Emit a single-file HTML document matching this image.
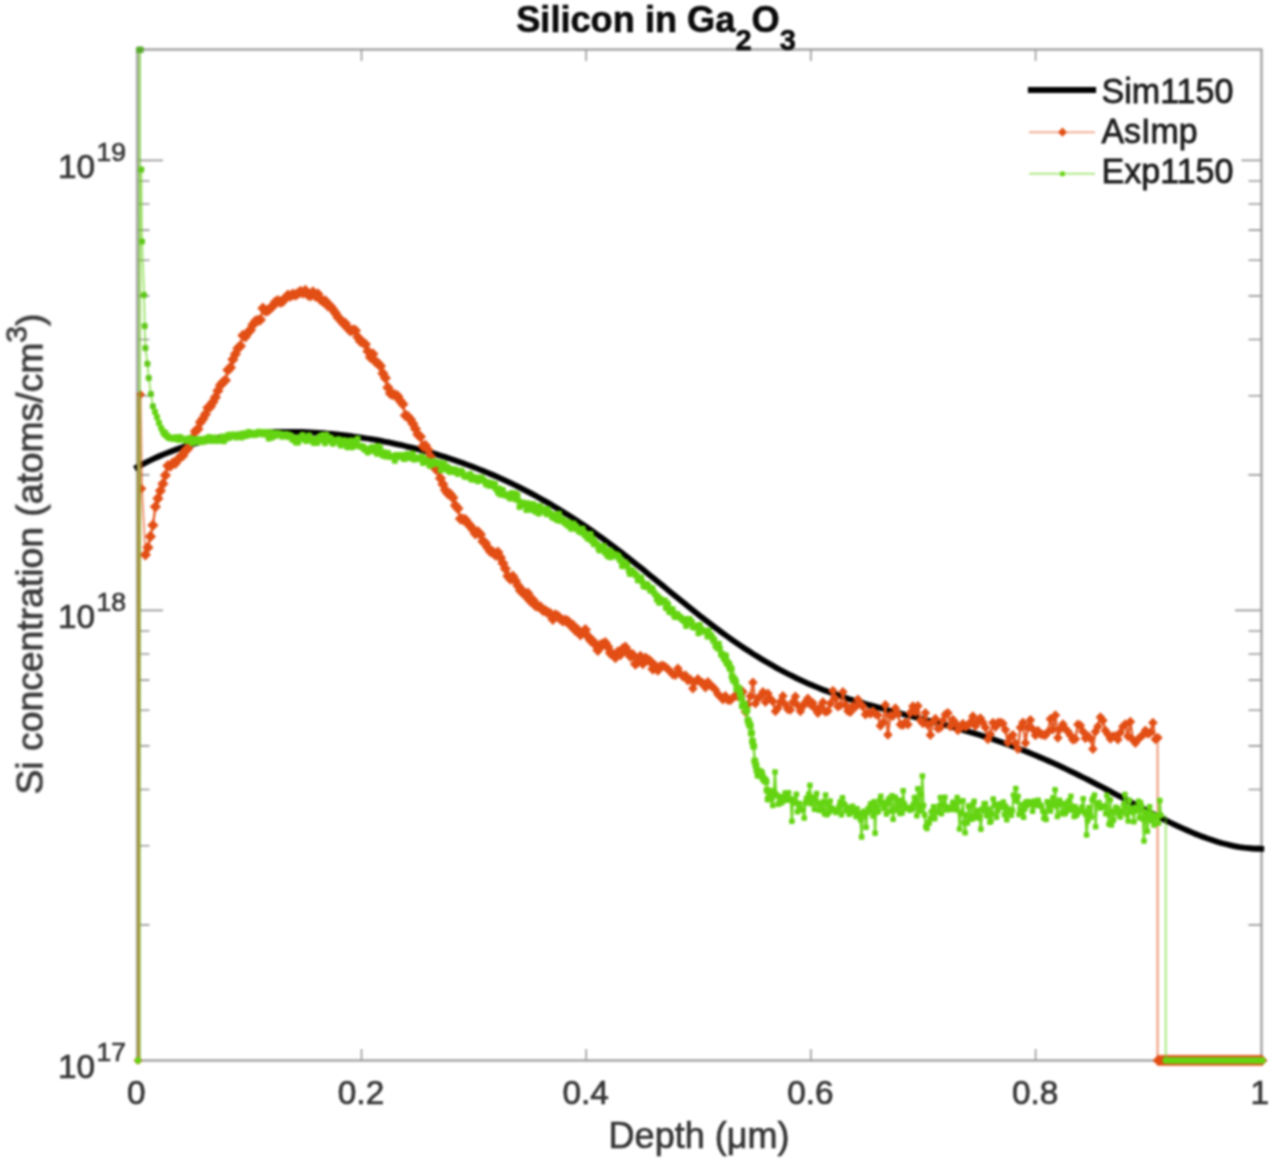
<!DOCTYPE html>
<html lang="en"><head><meta charset="utf-8"><title>Silicon in Ga2O3</title>
<style>
html,body{margin:0;padding:0;background:#fff;}
body{width:1280px;height:1167px;overflow:hidden;}
svg{display:block;font-family:"Liberation Sans",sans-serif;}
.tk{font-size:33.4px;fill:#353535;stroke:#353535;stroke-width:0.7px;}
.sup{font-size:26.5px;}
.lb{font-size:36px;fill:#353535;stroke:#353535;stroke-width:0.7px;}
.lg{font-size:34.4px;fill:#1c1c1c;stroke:#1c1c1c;stroke-width:0.8px;}
.ttl{font-size:36.2px;font-weight:bold;fill:#0a0a0a;stroke:#0a0a0a;stroke-width:0.6px;}
.soft{filter:blur(1.3px);}.softt{filter:blur(0.9px);}
</style></head><body>
<svg width="1280" height="1167" viewBox="0 0 1280 1167">
<rect width="1280" height="1167" fill="#fff"/>
<defs>
<path id="mr" d="M0,-5.8 L5.6,0 L0,5.8 L-5.6,0 Z" fill="#e24e14"/>
<rect id="mg" x="-3" y="-3" width="6" height="6" rx="1.4" fill="#64d412"/>
<rect id="mgs" x="-3" y="-3" width="6" height="6" rx="1.5" fill="#60c81a"/>
<path id="mrt" d="M0,-5 L4.8,0 L0,5 L-4.8,0 Z" fill="#e24e14"/>
<rect id="mgt" x="-2.8" y="-2.8" width="5.6" height="5.6" rx="1.3" fill="#64d412"/>
<rect id="mg2" x="-3.5" y="-3.5" width="7" height="7" rx="1.6" fill="#64d412"/>
<path id="mrs" d="M0,-4.4 L4.4,0 L0,4.4 L-4.4,0 Z" fill="#e24e14"/>
</defs>
<g class="soft">
<g fill="none" stroke="#a9a9a9" stroke-width="2.6">
<rect x="137.2" y="49.5" width="1124.3" height="1011"/>
</g>
<path d="M138,924.9 h11.5 M1261.5,924.9 h-13 M138,845.7 h11.5 M1261.5,845.7 h-13 M138,789.5 h11.5 M1261.5,789.5 h-13 M138,745.9 h11.5 M1261.5,745.9 h-13 M138,710.2 h11.5 M1261.5,710.2 h-13 M138,680.1 h11.5 M1261.5,680.1 h-13 M138,654 h11.5 M1261.5,654 h-13 M138,631 h11.5 M1261.5,631 h-13 M138,610.4 h25 M1261.5,610.4 h-26.5 M138,474.9 h11.5 M1261.5,474.9 h-13 M138,395.7 h11.5 M1261.5,395.7 h-13 M138,339.5 h11.5 M1261.5,339.5 h-13 M138,295.9 h11.5 M1261.5,295.9 h-13 M138,260.2 h11.5 M1261.5,260.2 h-13 M138,230.1 h11.5 M1261.5,230.1 h-13 M138,204 h11.5 M1261.5,204 h-13 M138,181 h11.5 M1261.5,181 h-13 M138,160.4 h25 M1261.5,160.4 h-26.5 M361.5,1060.5 v-11.5 M361.5,49.5 v11.5 M586.2,1060.5 v-11.5 M586.2,49.5 v11.5 M810.9,1060.5 v-11.5 M810.9,49.5 v11.5 M1035.6,1060.5 v-11.5 M1035.6,49.5 v11.5" fill="none" stroke="#999" stroke-width="1.6"/>
<polyline points="137,467.2 141.3,464.8 145.7,462.6 150,460.5 154.4,458.4 158.7,456.5 163,454.6 167.4,452.9 171.7,451.2 176.1,449.6 180.4,448.1 184.8,446.6 189.1,445.3 193.4,444 197.8,442.8 202.1,441.7 206.5,440.6 210.8,439.6 215.1,438.7 219.5,437.8 223.8,437 228.2,436.3 232.5,435.6 236.8,435 241.2,434.5 245.5,434 249.9,433.5 254.2,433.1 258.5,432.8 262.9,432.5 267.2,432.3 271.6,432.1 275.9,431.9 280.3,431.8 284.6,431.8 288.9,431.8 293.3,431.8 297.6,431.9 302,432 306.3,432.2 310.6,432.4 315,432.6 319.3,432.9 323.7,433.2 328,433.6 332.3,434 336.7,434.4 341,434.9 345.4,435.4 349.7,435.9 354,436.5 358.4,437.1 362.7,437.8 367.1,438.5 371.4,439.2 375.8,439.9 380.1,440.7 384.4,441.6 388.8,442.4 393.1,443.3 397.5,444.3 401.8,445.2 406.1,446.3 410.5,447.3 414.8,448.4 419.2,449.5 423.5,450.7 427.8,451.9 432.2,453.1 436.5,454.4 440.9,455.7 445.2,457.1 449.5,458.5 453.9,459.9 458.2,461.4 462.6,463 466.9,464.6 471.3,466.2 475.6,467.9 479.9,469.6 484.3,471.3 488.6,473.2 493,475 497.3,476.9 501.6,478.9 506,480.9 510.3,482.9 514.7,485 519,487.2 523.3,489.4 527.7,491.6 532,493.9 536.4,496.3 540.7,498.7 545,501.1 549.4,503.6 553.7,506.2 558.1,508.8 562.4,511.4 566.8,514.1 571.1,516.9 575.4,519.7 579.8,522.6 584.1,525.5 588.5,528.4 592.8,531.4 597.1,534.5 601.5,537.6 605.8,540.8 610.2,544 614.5,547.3 618.8,550.6 623.2,553.9 627.5,557.3 631.9,560.7 636.2,564.2 640.5,567.6 644.9,571.1 649.2,574.7 653.6,578.2 657.9,581.8 662.3,585.3 666.6,588.9 670.9,592.4 675.3,596 679.6,599.5 684,603 688.3,606.5 692.6,610 697,613.5 701.3,616.9 705.7,620.2 710,623.6 714.3,626.9 718.7,630.1 723,633.3 727.4,636.5 731.7,639.6 736,642.6 740.4,645.6 744.7,648.5 749.1,651.3 753.4,654.1 757.8,656.8 762.1,659.5 766.4,662.1 770.8,664.6 775.1,667.1 779.5,669.5 783.8,671.8 788.1,674 792.5,676.2 796.8,678.3 801.2,680.4 805.5,682.4 809.8,684.3 814.2,686.1 818.5,687.9 822.9,689.7 827.2,691.3 831.5,692.9 835.9,694.5 840.2,696 844.6,697.5 848.9,698.9 853.3,700.3 857.6,701.6 861.9,702.9 866.3,704.2 870.6,705.4 875,706.6 879.3,707.8 883.6,709 888,710.2 892.3,711.3 896.7,712.4 901,713.5 905.3,714.7 909.7,715.8 914,716.9 918.4,718 922.7,719.1 927,720.2 931.4,721.3 935.7,722.5 940.1,723.6 944.4,724.8 948.8,726 953.1,727.2 957.4,728.4 961.8,729.6 966.1,730.9 970.5,732.2 974.8,733.5 979.1,734.8 983.5,736.2 987.8,737.6 992.2,739 996.5,740.5 1000.8,742 1005.2,743.6 1009.5,745.1 1013.9,746.7 1018.2,748.4 1022.5,750.1 1026.9,751.8 1031.2,753.6 1035.6,755.4 1039.9,757.2 1044.3,759.1 1048.6,761 1052.9,762.9 1057.3,764.9 1061.6,766.9 1066,769 1070.3,771.1 1074.6,773.2 1079,775.3 1083.3,777.5 1087.7,779.6 1092,781.9 1096.3,784.1 1100.7,786.3 1105,788.6 1109.4,790.9 1113.7,793.2 1118,795.5 1122.4,797.8 1126.7,800.1 1131.1,802.4 1135.4,804.7 1139.8,807 1144.1,809.3 1148.4,811.5 1152.8,813.8 1157.1,816 1161.5,818.2 1165.8,820.4 1170.1,822.5 1174.5,824.6 1178.8,826.6 1183.2,828.6 1187.5,830.5 1191.8,832.4 1196.2,834.2 1200.5,835.9 1204.9,837.5 1209.2,839.1 1213.5,840.5 1217.9,841.9 1222.2,843.2 1226.6,844.3 1230.9,845.4 1235.3,846.3 1239.6,847.1 1243.9,847.7 1248.3,848.2 1252.6,848.6 1257,848.8 1261.3,848.8" fill="none" stroke="#000" stroke-width="5.8" stroke-linejoin="round" stroke-linecap="square"/>
<g>
<polyline points="138,1060.4 140.6,394.5 142,488.6 145.4,554.7 147.9,547.4" fill="none" stroke="#e24e14" stroke-width="2" stroke-opacity="0.6"/>
<polyline points="145.4,554.7 147.9,547.4 150.4,536.4 152.9,525.3 155.4,506.8 157.9,498.4 160.4,490.8 162.9,483.7 165.4,475.2 167.9,465.7 170.4,466 172.9,463 175.4,463.3 177.9,459.5 180.4,456.7 182.9,455.4 185.4,450.2 187.9,448.6 190.4,442.7 192.9,437.6 195.4,431.3 197.9,429.1 200.4,422.3 202.9,418.8 205.4,414.2 207.9,407.8 210.4,406.6 212.9,402.1 215.4,397.3 217.9,390.7 220.4,385.2 222.9,382.3 225.4,380.2 227.9,370 230.4,367.6 232.9,359.4 235.4,354.1 237.9,348.3 240.4,345.9 242.9,335.5 245.4,336.7 247.9,332.6 250.4,330.1 252.9,324.8 255.4,321.3 257.9,320.5 260.4,319.8 262.9,308.2 265.4,310.9 267.9,310.4 270.4,308.3 272.9,305.9 275.4,302 277.9,300.8 280.4,302.1 282.9,301.1 285.4,298.1 287.9,295.2 290.4,296 292.9,294.3 295.4,295 297.9,293.5 300.4,291.6 302.9,293 305.4,290.5 307.9,294.6 310.4,295.8 312.9,292 315.4,295.9 317.9,294.1 320.4,299.5 322.9,301.1 325.4,301 327.9,305.8 330.4,306.3 332.9,309.4 335.4,313.1 337.9,317.2 340.4,319.6 342.9,322.9 345.4,323.6 347.9,328.2 350.4,330.7 352.9,330 355.4,330.5 357.9,337.3 360.4,341.2 362.9,342.5 365.4,344.3 367.9,351.2 370.4,357.3 372.9,354.1 375.4,361.6 377.9,363.3 380.4,366.1 382.9,373.4 385.4,378 387.9,387.6 390.4,393.4 392.9,394.4 395.4,395.1 397.9,396.4 400.4,401 402.9,404.2 405.4,415.4 407.9,416.5 410.4,419.6 412.9,423.7 415.4,428.7 417.9,434.5 420.4,436.8 422.9,446.3 425.4,445.5 427.9,449.7 430.4,456.4 432.9,463.6 435.4,468.6 437.9,470.8 440.4,478.3 442.9,484.2 445.4,490.1 447.9,493.4 450.4,494.4 452.9,497.7 455.4,505.5 457.9,508.5 460.4,518.7 462.9,519.4 465.4,519.7 467.9,523.6 470.4,526 472.9,529.5 475.4,533.8 477.9,531.8 480.4,534.6 482.9,541.4 485.4,543.1 487.9,547.8 490.4,551.4 492.9,552.1 495.4,555 497.9,552.3 500.4,557.6 502.9,563.2 505.4,568.8 507.9,576.1 510.4,579 512.9,576.4 515.4,580.7 517.9,585.6 520.4,590.6 522.9,591.2 525.4,595.4 527.9,593.4 530.4,601 532.9,600.1 535.4,605.5 537.9,606.1 540.4,607.1 542.9,610.2 545.4,610.9 547.9,612.5 550.4,613.8 552.9,619.3 555.4,615.1 557.9,616.3 560.4,618.9 562.9,620.6 565.4,620.4 567.9,621.2 570.4,625 572.9,625.3 575.4,630.2 577.9,630 580.4,634.6 582.9,632.3 585.4,629.7 587.9,636.2 590.4,640.1 592.9,641.3 595.4,644.8 597.9,650.3 600.4,645.1 602.9,644.1 605.4,642.9 607.9,647.1 610.4,653.1 612.9,654.5 615.4,657.5 617.9,652 620.4,654.4 622.9,648.7 625.4,647.4 627.9,651.8 630.4,656.3 632.9,654.9 635.4,664 637.9,661.8 640.4,656.5 642.9,663.4 645.4,658.2 647.9,659.7 650.4,661.5 652.9,668.9 655.4,666.2 657.9,670 660.4,666 662.9,665.5 665.4,667.1 667.9,669 670.4,671.7 672.9,674.5 675.4,675.1 677.9,668.6 680.4,673.8 682.9,676.5 685.4,675.2 687.9,680.5 690.4,679.4 692.9,688.6 695.4,681.7 697.9,678.9 700.4,682.3 702.9,682.9 705.4,687.4 707.9,681.9 710.4,685.5 712.9,687.1 715.4,689.7 717.9,694.3 720.4,696.5 722.9,699.5 725.4,696.1 727.9,700 730.4,700.2 732.9,697.7 735.4,695.5 737.9,696.4 740.4,695.1 742.9,691.7 745.4,711.7 747.9,704.4 750.4,696.2 752.9,682.5 755.4,703.6 757.9,698.3 760.4,696.5 762.9,691.9 765.4,702.1 767.9,693.5 770.4,698.7 772.9,701.5 775.4,711.2 777.9,708.1 780.4,701.7 782.9,696 785.4,704.5 787.9,709.3 790.4,709.7 792.9,702 795.4,696.5 797.9,705.5 800.4,711.3 802.9,706.3 805.4,702.3 807.9,698.4 810.4,704.4 812.9,703.1 815.4,708.9 817.9,712.9 820.4,706.9 822.9,702.3 825.4,711.7 827.9,711 830.4,703.4 832.9,690.7 835.4,698.4 837.9,706.4 840.4,705.3 842.9,692 845.4,704.8 847.9,711 850.4,712 852.9,706.1 855.4,706.9 857.9,699.4 860.4,703.7 862.9,706.6 865.4,714.6 867.9,712.5 870.4,713.7 872.9,711.2 875.4,714.1 877.9,715 880.4,725.7 882.9,722.5 885.4,705 887.9,734.8 890.4,715.5 892.9,716.1 895.4,708.2 897.9,713.8 900.4,724.6 902.9,725 905.4,722.3 907.9,724.4 910.4,712.8 912.9,706.3 915.4,711.9 917.9,706.1 920.4,720.2 922.9,723.2 925.4,713.1 927.9,725 930.4,735.1 932.9,721.8 935.4,718.7 937.9,728.6 940.4,727.4 942.9,720.8 945.4,714.6 947.9,712.9 950.4,726.5 952.9,719.8 955.4,723.1 957.9,730.3 960.4,728.1 962.9,723.8 965.4,726.8 967.9,725.6 970.4,722.3 972.9,716.2 975.4,726.1 977.9,721.5 980.4,718.2 982.9,722.4 985.4,727.5 987.9,739.3 990.4,734.3 992.9,722.8 995.4,727 997.9,722.8 1000.4,722.4 1002.9,723.4 1005.4,729.8 1007.9,742.6 1010.4,737 1012.9,735.1 1015.4,743.2 1017.9,749.1 1020.4,727.6 1022.9,722.5 1025.4,743.1 1027.9,727.6 1030.4,719.9 1032.9,729.3 1035.4,735.2 1037.9,730.7 1040.4,734.1 1042.9,734.8 1045.4,735.2 1047.9,731.9 1050.4,719 1052.9,729.6 1055.4,715.3 1057.9,737.7 1060.4,728.7 1062.9,724.3 1065.4,729.1 1067.9,731.5 1070.4,735.3 1072.9,739.7 1075.4,738.9 1077.9,724.4 1080.4,725.6 1082.9,731.6 1085.4,738.2 1087.9,735.9 1090.4,738.4 1092.9,748.9 1095.4,731.7 1097.9,726.6 1100.4,717.2 1102.9,720.6 1105.4,730.6 1107.9,734.2 1110.4,738.7 1112.9,736.3 1115.4,736.3 1117.9,739.6 1120.4,732.4 1122.9,726.4 1125.4,724.2 1127.9,736.3 1130.4,721.8 1132.9,739.8 1135.4,743 1137.9,739.5 1140.4,737.1 1142.9,735 1145.4,730.5 1147.9,733.8 1150.4,732.5 1152.9,722.7 1155.4,739.2 1157.9,737.7" fill="none" stroke="#e24e14" stroke-width="2.4" stroke-opacity="0.9" stroke-linejoin="round"/>
<path d="M1157.6,737.7 V1060.4" stroke="#e24e14" stroke-width="2.4" stroke-opacity="0.5" fill="none"/>
<use href="#mrs" x="138" y="1060.4"/><use href="#mrs" x="140.6" y="394.5"/><use href="#mrs" x="142" y="488.6"/><use href="#mr" x="145.4" y="554.7"/><use href="#mr" x="147.9" y="547.4"/><use href="#mr" x="150.4" y="536.4"/><use href="#mr" x="152.9" y="525.3"/><use href="#mr" x="155.4" y="506.8"/><use href="#mr" x="157.9" y="498.4"/><use href="#mr" x="160.4" y="490.8"/><use href="#mr" x="162.9" y="483.7"/><use href="#mr" x="165.4" y="475.2"/><use href="#mr" x="167.9" y="465.7"/><use href="#mr" x="170.4" y="466"/><use href="#mr" x="172.9" y="463"/><use href="#mr" x="175.4" y="463.3"/><use href="#mr" x="177.9" y="459.5"/><use href="#mr" x="180.4" y="456.7"/><use href="#mr" x="182.9" y="455.4"/><use href="#mr" x="185.4" y="450.2"/><use href="#mr" x="187.9" y="448.6"/><use href="#mr" x="190.4" y="442.7"/><use href="#mr" x="192.9" y="437.6"/><use href="#mr" x="195.4" y="431.3"/><use href="#mr" x="197.9" y="429.1"/><use href="#mr" x="200.4" y="422.3"/><use href="#mr" x="202.9" y="418.8"/><use href="#mr" x="205.4" y="414.2"/><use href="#mr" x="207.9" y="407.8"/><use href="#mr" x="210.4" y="406.6"/><use href="#mr" x="212.9" y="402.1"/><use href="#mr" x="215.4" y="397.3"/><use href="#mr" x="217.9" y="390.7"/><use href="#mr" x="220.4" y="385.2"/><use href="#mr" x="222.9" y="382.3"/><use href="#mr" x="225.4" y="380.2"/><use href="#mr" x="227.9" y="370"/><use href="#mr" x="230.4" y="367.6"/><use href="#mr" x="232.9" y="359.4"/><use href="#mr" x="235.4" y="354.1"/><use href="#mr" x="237.9" y="348.3"/><use href="#mr" x="240.4" y="345.9"/><use href="#mr" x="242.9" y="335.5"/><use href="#mr" x="245.4" y="336.7"/><use href="#mr" x="247.9" y="332.6"/><use href="#mr" x="250.4" y="330.1"/><use href="#mr" x="252.9" y="324.8"/><use href="#mr" x="255.4" y="321.3"/><use href="#mr" x="257.9" y="320.5"/><use href="#mr" x="260.4" y="319.8"/><use href="#mr" x="262.9" y="308.2"/><use href="#mr" x="265.4" y="310.9"/><use href="#mr" x="267.9" y="310.4"/><use href="#mr" x="270.4" y="308.3"/><use href="#mr" x="272.9" y="305.9"/><use href="#mr" x="275.4" y="302"/><use href="#mr" x="277.9" y="300.8"/><use href="#mr" x="280.4" y="302.1"/><use href="#mr" x="282.9" y="301.1"/><use href="#mr" x="285.4" y="298.1"/><use href="#mr" x="287.9" y="295.2"/><use href="#mr" x="290.4" y="296"/><use href="#mr" x="292.9" y="294.3"/><use href="#mr" x="295.4" y="295"/><use href="#mr" x="297.9" y="293.5"/><use href="#mr" x="300.4" y="291.6"/><use href="#mr" x="302.9" y="293"/><use href="#mr" x="305.4" y="290.5"/><use href="#mr" x="307.9" y="294.6"/><use href="#mr" x="310.4" y="295.8"/><use href="#mr" x="312.9" y="292"/><use href="#mr" x="315.4" y="295.9"/><use href="#mr" x="317.9" y="294.1"/><use href="#mr" x="320.4" y="299.5"/><use href="#mr" x="322.9" y="301.1"/><use href="#mr" x="325.4" y="301"/><use href="#mr" x="327.9" y="305.8"/><use href="#mr" x="330.4" y="306.3"/><use href="#mr" x="332.9" y="309.4"/><use href="#mr" x="335.4" y="313.1"/><use href="#mr" x="337.9" y="317.2"/><use href="#mr" x="340.4" y="319.6"/><use href="#mr" x="342.9" y="322.9"/><use href="#mr" x="345.4" y="323.6"/><use href="#mr" x="347.9" y="328.2"/><use href="#mr" x="350.4" y="330.7"/><use href="#mr" x="352.9" y="330"/><use href="#mr" x="355.4" y="330.5"/><use href="#mr" x="357.9" y="337.3"/><use href="#mr" x="360.4" y="341.2"/><use href="#mr" x="362.9" y="342.5"/><use href="#mr" x="365.4" y="344.3"/><use href="#mr" x="367.9" y="351.2"/><use href="#mr" x="370.4" y="357.3"/><use href="#mr" x="372.9" y="354.1"/><use href="#mr" x="375.4" y="361.6"/><use href="#mr" x="377.9" y="363.3"/><use href="#mr" x="380.4" y="366.1"/><use href="#mr" x="382.9" y="373.4"/><use href="#mr" x="385.4" y="378"/><use href="#mr" x="387.9" y="387.6"/><use href="#mr" x="390.4" y="393.4"/><use href="#mr" x="392.9" y="394.4"/><use href="#mr" x="395.4" y="395.1"/><use href="#mr" x="397.9" y="396.4"/><use href="#mr" x="400.4" y="401"/><use href="#mr" x="402.9" y="404.2"/><use href="#mr" x="405.4" y="415.4"/><use href="#mr" x="407.9" y="416.5"/><use href="#mr" x="410.4" y="419.6"/><use href="#mr" x="412.9" y="423.7"/><use href="#mr" x="415.4" y="428.7"/><use href="#mr" x="417.9" y="434.5"/><use href="#mr" x="420.4" y="436.8"/><use href="#mr" x="422.9" y="446.3"/><use href="#mr" x="425.4" y="445.5"/><use href="#mr" x="427.9" y="449.7"/><use href="#mr" x="430.4" y="456.4"/><use href="#mr" x="432.9" y="463.6"/><use href="#mr" x="435.4" y="468.6"/><use href="#mr" x="437.9" y="470.8"/><use href="#mr" x="440.4" y="478.3"/><use href="#mr" x="442.9" y="484.2"/><use href="#mr" x="445.4" y="490.1"/><use href="#mr" x="447.9" y="493.4"/><use href="#mr" x="450.4" y="494.4"/><use href="#mr" x="452.9" y="497.7"/><use href="#mr" x="455.4" y="505.5"/><use href="#mr" x="457.9" y="508.5"/><use href="#mr" x="460.4" y="518.7"/><use href="#mr" x="462.9" y="519.4"/><use href="#mr" x="465.4" y="519.7"/><use href="#mr" x="467.9" y="523.6"/><use href="#mr" x="470.4" y="526"/><use href="#mr" x="472.9" y="529.5"/><use href="#mr" x="475.4" y="533.8"/><use href="#mr" x="477.9" y="531.8"/><use href="#mr" x="480.4" y="534.6"/><use href="#mr" x="482.9" y="541.4"/><use href="#mr" x="485.4" y="543.1"/><use href="#mr" x="487.9" y="547.8"/><use href="#mr" x="490.4" y="551.4"/><use href="#mr" x="492.9" y="552.1"/><use href="#mr" x="495.4" y="555"/><use href="#mr" x="497.9" y="552.3"/><use href="#mr" x="500.4" y="557.6"/><use href="#mr" x="502.9" y="563.2"/><use href="#mr" x="505.4" y="568.8"/><use href="#mr" x="507.9" y="576.1"/><use href="#mr" x="510.4" y="579"/><use href="#mr" x="512.9" y="576.4"/><use href="#mr" x="515.4" y="580.7"/><use href="#mr" x="517.9" y="585.6"/><use href="#mr" x="520.4" y="590.6"/><use href="#mr" x="522.9" y="591.2"/><use href="#mr" x="525.4" y="595.4"/><use href="#mr" x="527.9" y="593.4"/><use href="#mr" x="530.4" y="601"/><use href="#mr" x="532.9" y="600.1"/><use href="#mr" x="535.4" y="605.5"/><use href="#mr" x="537.9" y="606.1"/><use href="#mr" x="540.4" y="607.1"/><use href="#mr" x="542.9" y="610.2"/><use href="#mr" x="545.4" y="610.9"/><use href="#mr" x="547.9" y="612.5"/><use href="#mr" x="550.4" y="613.8"/><use href="#mr" x="552.9" y="619.3"/><use href="#mr" x="555.4" y="615.1"/><use href="#mr" x="557.9" y="616.3"/><use href="#mr" x="560.4" y="618.9"/><use href="#mr" x="562.9" y="620.6"/><use href="#mr" x="565.4" y="620.4"/><use href="#mr" x="567.9" y="621.2"/><use href="#mr" x="570.4" y="625"/><use href="#mr" x="572.9" y="625.3"/><use href="#mr" x="575.4" y="630.2"/><use href="#mr" x="577.9" y="630"/><use href="#mr" x="580.4" y="634.6"/><use href="#mr" x="582.9" y="632.3"/><use href="#mr" x="585.4" y="629.7"/><use href="#mr" x="587.9" y="636.2"/><use href="#mr" x="590.4" y="640.1"/><use href="#mr" x="592.9" y="641.3"/><use href="#mr" x="595.4" y="644.8"/><use href="#mr" x="597.9" y="650.3"/><use href="#mr" x="600.4" y="645.1"/><use href="#mr" x="602.9" y="644.1"/><use href="#mr" x="605.4" y="642.9"/><use href="#mr" x="607.9" y="647.1"/><use href="#mr" x="610.4" y="653.1"/><use href="#mr" x="612.9" y="654.5"/><use href="#mr" x="615.4" y="657.5"/><use href="#mr" x="617.9" y="652"/><use href="#mr" x="620.4" y="654.4"/><use href="#mr" x="622.9" y="648.7"/><use href="#mr" x="625.4" y="647.4"/><use href="#mr" x="627.9" y="651.8"/><use href="#mr" x="630.4" y="656.3"/><use href="#mr" x="632.9" y="654.9"/><use href="#mr" x="635.4" y="664"/><use href="#mr" x="637.9" y="661.8"/><use href="#mr" x="640.4" y="656.5"/><use href="#mr" x="642.9" y="663.4"/><use href="#mr" x="645.4" y="658.2"/><use href="#mr" x="647.9" y="659.7"/><use href="#mr" x="650.4" y="661.5"/><use href="#mr" x="652.9" y="668.9"/><use href="#mr" x="655.4" y="666.2"/><use href="#mr" x="657.9" y="670"/><use href="#mrt" x="660.4" y="666"/><use href="#mrt" x="662.9" y="665.5"/><use href="#mrt" x="665.4" y="667.1"/><use href="#mrt" x="667.9" y="669"/><use href="#mrt" x="670.4" y="671.7"/><use href="#mrt" x="672.9" y="674.5"/><use href="#mrt" x="675.4" y="675.1"/><use href="#mrt" x="677.9" y="668.6"/><use href="#mrt" x="680.4" y="673.8"/><use href="#mrt" x="682.9" y="676.5"/><use href="#mrt" x="685.4" y="675.2"/><use href="#mrt" x="687.9" y="680.5"/><use href="#mrt" x="690.4" y="679.4"/><use href="#mrt" x="692.9" y="688.6"/><use href="#mrt" x="695.4" y="681.7"/><use href="#mrt" x="697.9" y="678.9"/><use href="#mrt" x="700.4" y="682.3"/><use href="#mrt" x="702.9" y="682.9"/><use href="#mrt" x="705.4" y="687.4"/><use href="#mrt" x="707.9" y="681.9"/><use href="#mrt" x="710.4" y="685.5"/><use href="#mrt" x="712.9" y="687.1"/><use href="#mrt" x="715.4" y="689.7"/><use href="#mrt" x="717.9" y="694.3"/><use href="#mrt" x="720.4" y="696.5"/><use href="#mrt" x="722.9" y="699.5"/><use href="#mrt" x="725.4" y="696.1"/><use href="#mrt" x="727.9" y="700"/><use href="#mrt" x="730.4" y="700.2"/><use href="#mrt" x="732.9" y="697.7"/><use href="#mrt" x="735.4" y="695.5"/><use href="#mrt" x="737.9" y="696.4"/><use href="#mrt" x="740.4" y="695.1"/><use href="#mrt" x="742.9" y="691.7"/><use href="#mrt" x="745.4" y="711.7"/><use href="#mrt" x="747.9" y="704.4"/><use href="#mrt" x="750.4" y="696.2"/><use href="#mrt" x="752.9" y="682.5"/><use href="#mrt" x="755.4" y="703.6"/><use href="#mrt" x="757.9" y="698.3"/><use href="#mrt" x="760.4" y="696.5"/><use href="#mrt" x="762.9" y="691.9"/><use href="#mrt" x="765.4" y="702.1"/><use href="#mrt" x="767.9" y="693.5"/><use href="#mrt" x="770.4" y="698.7"/><use href="#mrt" x="772.9" y="701.5"/><use href="#mrt" x="775.4" y="711.2"/><use href="#mrt" x="777.9" y="708.1"/><use href="#mrt" x="780.4" y="701.7"/><use href="#mrt" x="782.9" y="696"/><use href="#mrt" x="785.4" y="704.5"/><use href="#mrt" x="787.9" y="709.3"/><use href="#mrt" x="790.4" y="709.7"/><use href="#mrt" x="792.9" y="702"/><use href="#mrt" x="795.4" y="696.5"/><use href="#mrt" x="797.9" y="705.5"/><use href="#mrt" x="800.4" y="711.3"/><use href="#mrt" x="802.9" y="706.3"/><use href="#mrt" x="805.4" y="702.3"/><use href="#mrt" x="807.9" y="698.4"/><use href="#mrt" x="810.4" y="704.4"/><use href="#mrt" x="812.9" y="703.1"/><use href="#mrt" x="815.4" y="708.9"/><use href="#mrt" x="817.9" y="712.9"/><use href="#mrt" x="820.4" y="706.9"/><use href="#mrt" x="822.9" y="702.3"/><use href="#mrt" x="825.4" y="711.7"/><use href="#mrt" x="827.9" y="711"/><use href="#mrt" x="830.4" y="703.4"/><use href="#mrt" x="832.9" y="690.7"/><use href="#mrt" x="835.4" y="698.4"/><use href="#mrt" x="837.9" y="706.4"/><use href="#mrt" x="840.4" y="705.3"/><use href="#mrt" x="842.9" y="692"/><use href="#mrt" x="845.4" y="704.8"/><use href="#mrt" x="847.9" y="711"/><use href="#mrt" x="850.4" y="712"/><use href="#mrt" x="852.9" y="706.1"/><use href="#mrt" x="855.4" y="706.9"/><use href="#mrt" x="857.9" y="699.4"/><use href="#mrt" x="860.4" y="703.7"/><use href="#mrt" x="862.9" y="706.6"/><use href="#mrt" x="865.4" y="714.6"/><use href="#mrt" x="867.9" y="712.5"/><use href="#mrt" x="870.4" y="713.7"/><use href="#mrt" x="872.9" y="711.2"/><use href="#mrt" x="875.4" y="714.1"/><use href="#mrt" x="877.9" y="715"/><use href="#mrt" x="880.4" y="725.7"/><use href="#mrt" x="882.9" y="722.5"/><use href="#mrt" x="885.4" y="705"/><use href="#mrt" x="887.9" y="734.8"/><use href="#mrt" x="890.4" y="715.5"/><use href="#mrt" x="892.9" y="716.1"/><use href="#mrt" x="895.4" y="708.2"/><use href="#mrt" x="897.9" y="713.8"/><use href="#mrt" x="900.4" y="724.6"/><use href="#mrt" x="902.9" y="725"/><use href="#mrt" x="905.4" y="722.3"/><use href="#mrt" x="907.9" y="724.4"/><use href="#mrt" x="910.4" y="712.8"/><use href="#mrt" x="912.9" y="706.3"/><use href="#mrt" x="915.4" y="711.9"/><use href="#mrt" x="917.9" y="706.1"/><use href="#mrt" x="920.4" y="720.2"/><use href="#mrt" x="922.9" y="723.2"/><use href="#mrt" x="925.4" y="713.1"/><use href="#mrt" x="927.9" y="725"/><use href="#mrt" x="930.4" y="735.1"/><use href="#mrt" x="932.9" y="721.8"/><use href="#mrt" x="935.4" y="718.7"/><use href="#mrt" x="937.9" y="728.6"/><use href="#mrt" x="940.4" y="727.4"/><use href="#mrt" x="942.9" y="720.8"/><use href="#mrt" x="945.4" y="714.6"/><use href="#mrt" x="947.9" y="712.9"/><use href="#mrt" x="950.4" y="726.5"/><use href="#mrt" x="952.9" y="719.8"/><use href="#mrt" x="955.4" y="723.1"/><use href="#mrt" x="957.9" y="730.3"/><use href="#mrt" x="960.4" y="728.1"/><use href="#mrt" x="962.9" y="723.8"/><use href="#mrt" x="965.4" y="726.8"/><use href="#mrt" x="967.9" y="725.6"/><use href="#mrt" x="970.4" y="722.3"/><use href="#mrt" x="972.9" y="716.2"/><use href="#mrt" x="975.4" y="726.1"/><use href="#mrt" x="977.9" y="721.5"/><use href="#mrt" x="980.4" y="718.2"/><use href="#mrt" x="982.9" y="722.4"/><use href="#mrt" x="985.4" y="727.5"/><use href="#mrt" x="987.9" y="739.3"/><use href="#mrt" x="990.4" y="734.3"/><use href="#mrt" x="992.9" y="722.8"/><use href="#mrt" x="995.4" y="727"/><use href="#mrt" x="997.9" y="722.8"/><use href="#mrt" x="1000.4" y="722.4"/><use href="#mrt" x="1002.9" y="723.4"/><use href="#mrt" x="1005.4" y="729.8"/><use href="#mrt" x="1007.9" y="742.6"/><use href="#mrt" x="1010.4" y="737"/><use href="#mrt" x="1012.9" y="735.1"/><use href="#mrt" x="1015.4" y="743.2"/><use href="#mrt" x="1017.9" y="749.1"/><use href="#mrt" x="1020.4" y="727.6"/><use href="#mrt" x="1022.9" y="722.5"/><use href="#mrt" x="1025.4" y="743.1"/><use href="#mrt" x="1027.9" y="727.6"/><use href="#mrt" x="1030.4" y="719.9"/><use href="#mrt" x="1032.9" y="729.3"/><use href="#mrt" x="1035.4" y="735.2"/><use href="#mrt" x="1037.9" y="730.7"/><use href="#mrt" x="1040.4" y="734.1"/><use href="#mrt" x="1042.9" y="734.8"/><use href="#mrt" x="1045.4" y="735.2"/><use href="#mrt" x="1047.9" y="731.9"/><use href="#mrt" x="1050.4" y="719"/><use href="#mrt" x="1052.9" y="729.6"/><use href="#mrt" x="1055.4" y="715.3"/><use href="#mrt" x="1057.9" y="737.7"/><use href="#mrt" x="1060.4" y="728.7"/><use href="#mrt" x="1062.9" y="724.3"/><use href="#mrt" x="1065.4" y="729.1"/><use href="#mrt" x="1067.9" y="731.5"/><use href="#mrt" x="1070.4" y="735.3"/><use href="#mrt" x="1072.9" y="739.7"/><use href="#mrt" x="1075.4" y="738.9"/><use href="#mrt" x="1077.9" y="724.4"/><use href="#mrt" x="1080.4" y="725.6"/><use href="#mrt" x="1082.9" y="731.6"/><use href="#mrt" x="1085.4" y="738.2"/><use href="#mrt" x="1087.9" y="735.9"/><use href="#mrt" x="1090.4" y="738.4"/><use href="#mrt" x="1092.9" y="748.9"/><use href="#mrt" x="1095.4" y="731.7"/><use href="#mrt" x="1097.9" y="726.6"/><use href="#mrt" x="1100.4" y="717.2"/><use href="#mrt" x="1102.9" y="720.6"/><use href="#mrt" x="1105.4" y="730.6"/><use href="#mrt" x="1107.9" y="734.2"/><use href="#mrt" x="1110.4" y="738.7"/><use href="#mrt" x="1112.9" y="736.3"/><use href="#mrt" x="1115.4" y="736.3"/><use href="#mrt" x="1117.9" y="739.6"/><use href="#mrt" x="1120.4" y="732.4"/><use href="#mrt" x="1122.9" y="726.4"/><use href="#mrt" x="1125.4" y="724.2"/><use href="#mrt" x="1127.9" y="736.3"/><use href="#mrt" x="1130.4" y="721.8"/><use href="#mrt" x="1132.9" y="739.8"/><use href="#mrt" x="1135.4" y="743"/><use href="#mrt" x="1137.9" y="739.5"/><use href="#mrt" x="1140.4" y="737.1"/><use href="#mrt" x="1142.9" y="735"/><use href="#mrt" x="1145.4" y="730.5"/><use href="#mrt" x="1147.9" y="733.8"/><use href="#mrt" x="1150.4" y="732.5"/><use href="#mrt" x="1152.9" y="722.7"/><use href="#mrt" x="1155.4" y="739.2"/><use href="#mrt" x="1157.9" y="737.7"/><use href="#mr" x="1158.3" y="1060.4"/><use href="#mr" x="1160.5" y="1060.4"/><use href="#mr" x="1162.8" y="1060.4"/><use href="#mr" x="1165" y="1060.4"/><use href="#mr" x="1167.3" y="1060.4"/><use href="#mr" x="1169.5" y="1060.4"/><use href="#mr" x="1171.8" y="1060.4"/><use href="#mr" x="1174" y="1060.4"/><use href="#mr" x="1176.3" y="1060.4"/><use href="#mr" x="1178.5" y="1060.4"/><use href="#mr" x="1180.8" y="1060.4"/><use href="#mr" x="1183" y="1060.4"/><use href="#mr" x="1185.3" y="1060.4"/><use href="#mr" x="1187.5" y="1060.4"/><use href="#mr" x="1189.8" y="1060.4"/><use href="#mr" x="1192" y="1060.4"/><use href="#mr" x="1194.3" y="1060.4"/><use href="#mr" x="1196.5" y="1060.4"/><use href="#mr" x="1198.8" y="1060.4"/><use href="#mr" x="1201" y="1060.4"/><use href="#mr" x="1203.3" y="1060.4"/><use href="#mr" x="1205.5" y="1060.4"/><use href="#mr" x="1207.8" y="1060.4"/><use href="#mr" x="1210" y="1060.4"/><use href="#mr" x="1212.3" y="1060.4"/><use href="#mr" x="1214.5" y="1060.4"/><use href="#mr" x="1216.8" y="1060.4"/><use href="#mr" x="1219" y="1060.4"/><use href="#mr" x="1221.3" y="1060.4"/><use href="#mr" x="1223.5" y="1060.4"/><use href="#mr" x="1225.8" y="1060.4"/><use href="#mr" x="1228" y="1060.4"/><use href="#mr" x="1230.3" y="1060.4"/><use href="#mr" x="1232.5" y="1060.4"/><use href="#mr" x="1234.8" y="1060.4"/><use href="#mr" x="1237" y="1060.4"/><use href="#mr" x="1239.3" y="1060.4"/><use href="#mr" x="1241.5" y="1060.4"/><use href="#mr" x="1243.8" y="1060.4"/><use href="#mr" x="1246" y="1060.4"/><use href="#mr" x="1248.3" y="1060.4"/><use href="#mr" x="1250.5" y="1060.4"/><use href="#mr" x="1252.8" y="1060.4"/><use href="#mr" x="1255" y="1060.4"/><use href="#mr" x="1257.3" y="1060.4"/><use href="#mr" x="1259.5" y="1060.4"/><use href="#mr" x="1261.8" y="1060.4"/>
</g>
<g>
<polyline points="141.3,169.5 142,241.5 144,295.1 144.7,326 145.4,347.9 147.4,363.7 148.8,378 150.9,393.9 152.9,406.2 155,412 157,417.2" fill="none" stroke="#64d412" stroke-width="2" stroke-opacity="0.6"/>
<polyline points="155,412 157,417.2 159,423 161.2,428.2 163,431.6 164.1,434 165.2,432.8 166.4,435.9 167.5,435.8 168.6,438 169.8,437.6 170.9,438.6 172,438.5 173.1,438.5 174.2,438.6 175.4,437.3 176.5,439.3 177.6,439.3 178.8,439.9 179.9,436.9 181,438.8 182.1,439 183.2,439.4 184.4,438.7 185.5,440.8 186.6,440.4 187.8,440 188.9,440.2 190,438.1 191.1,441.2 192.2,443.1 193.4,442.5 194.5,441.9 195.6,439 196.8,440.1 197.9,442.3 199,439.1 200.1,441.2 201.2,439.5 202.4,442 203.5,439.5 204.6,441.4 205.8,438.5 206.9,439.2 208,438.3 209.1,437.1 210.2,440.8 211.4,439.1 212.5,440.9 213.6,440.2 214.8,437.6 215.9,439.7 217,441 218.1,440.3 219.2,440.8 220.4,439.6 221.5,436.7 222.6,436.7 223.8,441.3 224.9,439.7 226,437.5 227.1,437.4 228.2,434.9 229.4,437.9 230.5,434.7 231.6,434.8 232.8,436 233.9,435.9 235,434.4 236.1,437.5 237.2,437.1 238.4,435.9 239.5,434.7 240.6,434.8 241.8,437.4 242.9,433.5 244,433.8 245.1,434.6 246.2,436.1 247.4,434.8 248.5,432 249.6,435 250.8,432.8 251.9,435 253,433.3 254.1,433 255.2,434.9 256.4,434.3 257.5,433.2 258.6,431.7 259.8,432.1 260.9,433.9 262,432 263.1,434.5 264.2,434.1 265.4,432 266.5,433.3 267.6,434.9 268.8,438.6 269.9,432.5 271,432.5 272.1,437.4 273.2,433.3 274.4,433.6 275.5,436.1 276.6,433.1 277.8,434.6 278.9,433.6 280,433.8 281.1,434.5 282.2,436.7 283.4,436.1 284.5,434.6 285.6,434.2 286.8,434.3 287.9,436.9 289,435 290.1,435.4 291.2,436.3 292.4,439.8 293.5,437.4 294.6,440.2 295.8,442.4 296.9,438.9 298,442.6 299.1,437.5 300.2,439.2 301.4,437 302.5,434.9 303.6,439.1 304.8,437.3 305.9,441 307,440.7 308.1,438 309.2,435.5 310.4,438.7 311.5,438.9 312.6,441.2 313.8,443.1 314.9,443.1 316,438.9 317.1,443 318.2,440.6 319.4,437.1 320.5,436.2 321.6,440.3 322.8,434.9 323.9,437.9 325,443.3 326.1,434.8 327.2,436.6 328.4,441.2 329.5,440.1 330.6,437.7 331.8,440.1 332.9,443.7 334,441.6 335.1,440.5 336.2,440.5 337.4,440.6 338.5,439.2 339.6,443.4 340.8,445.5 341.9,441.5 343,442.3 344.1,440.3 345.2,441.1 346.4,445.7 347.5,447.2 348.6,443.7 349.8,442.7 350.9,440.5 352,447.3 353.1,446.5 354.2,441.1 355.4,441.5 356.5,445.5 357.6,438.8 358.8,445.4 359.9,446.6 361,445.9 362.1,447.2 363.2,446.6 364.4,449.4 365.5,449.9 366.6,448.8 367.8,452.5 368.9,449.6 370,448.7 371.1,450.4 372.2,447.1 373.4,451 374.5,448.5 375.6,449.9 376.8,453.7 377.9,446 379,453.1 380.1,447.8 381.2,452.3 382.4,455.4 383.5,452.5 384.6,452.6 385.8,456.6 386.9,454.8 388,452.9 389.1,456.2 390.2,457.1 391.4,456.3 392.5,456.3 393.6,456.2 394.8,460.8 395.9,455 397,456.3 398.1,457.2 399.2,455.1 400.4,455.7 401.5,455.3 402.6,455.3 403.8,459 404.9,459 406,457 407.1,454.2 408.2,454.4 409.4,458.1 410.5,457.1 411.6,457.3 412.8,453.7 413.9,459.6 415,457.8 416.1,459.2 417.2,457.5 418.4,459.1 419.5,458.8 420.6,458.5 421.8,456.5 422.9,462.9 424,459.3 425.1,459.3 426.2,461.7 427.4,460.9 428.5,462.6 429.6,465.7 430.8,465.3 431.9,461.4 433,463 434.1,461.5 435.2,461.8 436.4,464.1 437.5,463.5 438.6,462.7 439.8,462.4 440.9,470.2 442,468.2 443.1,464.7 444.2,463.5 445.4,467.6 446.5,469.4 447.6,466.7 448.8,471.1 449.9,472 451,470.8 452.1,469 453.2,471.8 454.4,471.9 455.5,469.4 456.6,472.3 457.8,474 458.9,472.8 460,472.1 461.1,470.7 462.2,472 463.4,474.2 464.5,476.6 465.6,476.3 466.8,477 467.9,477 469,475.9 470.1,474 471.2,479.4 472.4,476.5 473.5,477.8 474.6,479.7 475.8,479.2 476.9,477.5 478,481.2 479.1,479.1 480.2,479.4 481.4,477.6 482.5,479.1 483.6,480.8 484.8,481.1 485.9,484.5 487,483.9 488.1,482.5 489.2,485.8 490.4,482.8 491.5,484.3 492.6,483.6 493.8,486.6 494.9,484 496,489 497.1,489.9 498.2,492.7 499.4,488.5 500.5,494.6 501.6,491.9 502.8,489.9 503.9,494.9 505,494.4 506.1,495.7 507.2,494.4 508.4,494.7 509.5,497.6 510.6,498.6 511.8,493 512.9,495.8 514,497.4 515.1,493.6 516.2,499.6 517.4,494.9 518.5,500.5 519.6,506.9 520.8,502.9 521.9,504.8 523,502.5 524.1,503.8 525.2,503.8 526.4,510.1 527.5,503.3 528.6,506 529.8,504 530.9,505.4 532,510 533.1,504.1 534.2,505.4 535.4,511.7 536.5,508.4 537.6,508.7 538.8,513.6 539.9,505.9 541,509.4 542.1,511.2 543.2,509.8 544.4,508.8 545.5,512.2 546.6,514.2 547.8,509.3 548.9,512.5 550,513.1 551.1,514.8 552.2,517.5 553.4,514.7 554.5,518.2 555.6,514.6 556.8,520 557.9,517.4 559,513.7 560.1,521.1 561.2,519.9 562.4,518.9 563.5,520.5 564.6,522.9 565.8,522.3 566.9,524.8 568,521.8 569.1,526.4 570.2,525.2 571.4,528.8 572.5,527.4 573.6,523.4 574.8,526.9 575.9,526.1 577,529.2 578.1,529.6 579.2,531.6 580.4,528.7 581.5,532.7 582.6,528.7 583.8,531.9 584.9,535.5 586,534.6 587.1,537.5 588.2,538.8 589.4,539.1 590.5,534 591.6,540.9 592.8,538.7 593.9,544.3 595,541.8 596.1,544.1 597.2,544.1 598.4,548.3 599.5,550.4 600.6,546.6 601.8,549.7 602.9,546.2 604,545.9 605.1,552.8 606.2,551 607.4,555.6 608.5,556.5 609.6,550.3 610.8,557.3 611.9,552.4 613,553.9 614.1,554.7 615.2,555.5 616.4,554.5 617.5,557 618.6,556 619.8,560.2 620.9,559.2 622,566 623.1,566.2 624.2,565.1 625.4,562.4 626.5,565.2 627.6,565.2 628.8,570.6 629.9,574 631,569.9 632.1,570.9 633.2,572 634.4,572.9 635.5,575.2 636.6,575.1 637.8,580.3 638.9,579 640,580.3 641.1,577.5 642.2,581.6 643.4,586.1 644.5,584 645.6,587.1 646.8,584 647.9,585.4 649,587.1 650.1,590.5 651.2,590.3 652.4,588.3 653.5,591.9 654.6,593.6 655.8,594.9 656.9,599.6 658,596.5 659.1,602.7 660.2,598.8 661.4,599.9 662.5,602.3 663.6,602.1 664.8,600.4 665.9,607.9 667,603.2 668.1,604.4 669.2,611.8 670.4,612.3 671.5,609.6 672.6,609.2 673.8,614.6 674.9,617 676,613.8 677.1,614 678.2,615.2 679.4,617.5 680.5,617 681.6,618.9 682.8,620 683.9,621.2 685,619 686.1,625.9 687.2,622.9 688.4,622.7 689.5,619.1 690.6,623.6 691.8,621.8 692.9,627.2 694,625.4 695.1,627.4 696.2,627.3 697.4,626.9 698.5,633.3 699.6,625.1 700.8,628.3 701.9,631 703,630.8 704.1,631.7 705.2,630.8 706.4,630.8 707.5,636.6 708.6,630.7 709.8,636.6 710.9,635.1 712,636.9 713.1,640.7 714.2,639.4 715.4,646.1 716.5,645.1 717.6,648.5 718.8,643.7 719.9,648.4 721,653.9 722.1,654.5 723.2,655.2 724.4,658.6 725.5,656 726.6,661.9 727.8,663.3 728.9,664.5 730,668 731.1,669 732.2,676.4 733.4,680 734.5,679.5 735.6,682.2 736.8,688.7 737.9,688.1 739,688.5 740.1,693.5 741.2,698.2 742.4,705.8 743.5,705.5 744.6,704.2 745.8,711.2 746.9,710.1 748,720.2 749.1,723.4 750.2,725.7 751.4,733.1 752.5,741.2 753.6,746.2 754.8,761 755.9,765.2 757,770.2 758.1,775.2 759.2,772.9 760.4,771.7 761.5,773.2 762.6,777 763.8,779.5 764.9,779.9 766,781.6 767.1,790.2 768.2,798.9 769.4,791.5 770.5,792.8 771.6,796.9 772.8,805.4 773.9,791 775,772 776.1,794.4 777.2,795.5 778.4,804.2 779.5,802.7 780.6,796.9 781.8,802.6 782.9,800.9 784,798 785.1,793 786.2,800.3 787.4,796.3 788.5,792.7 789.6,798.5 790.8,800.2 791.9,821.3 793,799.3 794.1,802.7 795.2,803 796.4,794.2 797.5,811.7 798.6,803.3 799.8,804.4 800.9,810 802,809.3 803.1,809.5 804.2,818 805.4,802.9 806.5,798.2 807.6,799.6 808.8,794 809.9,785.3 811,803.7 812.1,799 813.2,797.3 814.4,809.3 815.5,799.5 816.6,793.6 817.8,803.4 818.9,810.1 820,803.3 821.1,809 822.2,810.5 823.4,801.6 824.5,813.7 825.6,795 826.8,814.7 827.9,803.2 829,812.4 830.1,801 831.2,807.7 832.4,809.2 833.5,809.3 834.6,810.4 835.8,812.4 836.9,810.6 838,810.3 839.1,806.4 840.2,802.1 841.4,814.7 842.5,797.7 843.6,803.6 844.8,804.7 845.9,810.6 847,807.3 848.1,810.3 849.2,814.3 850.4,811.7 851.5,807.7 852.6,806.2 853.8,812.1 854.9,810.8 856,816.4 857.1,808.7 858.2,813.4 859.4,815.9 860.5,819.7 861.6,836.9 862.8,813.1 863.9,811.2 865,815.8 866.1,827.2 867.2,812.6 868.4,808.3 869.5,809.5 870.6,803.9 871.8,810.6 872.9,815.9 874,801.7 875.1,833.1 876.2,806 877.4,812.2 878.5,811.1 879.6,800.3 880.8,796.3 881.9,802.4 883,805.2 884.1,808.4 885.2,802.6 886.4,814 887.5,803.7 888.6,799.4 889.8,798.4 890.9,811.1 892,795.9 893.1,819.3 894.2,810.1 895.4,797.4 896.5,810.2 897.6,800.6 898.8,806.3 899.9,813.5 901,800.4 902.1,812.9 903.2,790.8 904.4,803.7 905.5,808.7 906.6,808.1 907.8,807.5 908.9,808.5 910,810.2 911.1,807.3 912.2,809.1 913.4,804.1 914.5,797.6 915.6,799.9 916.8,815.8 917.9,788.8 919,805.6 920.1,810.9 921.2,794.3 922.4,776 923.5,805.5 924.6,814.9 925.8,826.5 926.9,828.4 928,823 929.1,823.1 930.2,818.9 931.4,811.8 932.5,817.6 933.6,806.9 934.8,818.6 935.9,812.5 937,811.8 938.1,812.5 939.2,806.1 940.4,797.5 941.5,813.6 942.6,805.1 943.8,803.3 944.9,797.3 946,809.8 947.1,807.1 948.2,809.8 949.4,807.5 950.5,809.4 951.6,808.5 952.8,802.4 953.9,804.4 955,806.7 956.1,810 957.2,797.6 958.4,801.6 959.5,829 960.6,813.8 961.8,812.3 962.9,800.9 964,822.9 965.1,832.8 966.2,815.1 967.4,822.9 968.5,806.1 969.6,806.5 970.8,817.4 971.9,819.3 973,804.3 974.1,801.4 975.2,815.5 976.4,817.7 977.5,810.5 978.6,816.1 979.8,818.3 980.9,829.1 982,809 983.1,810.1 984.2,803.8 985.4,803.5 986.5,815.1 987.6,815.9 988.8,809.1 989.9,822.1 991,821.3 992.1,813.9 993.2,799 994.4,805.1 995.5,804.3 996.6,817.2 997.8,810.9 998.9,804.9 1000,804.1 1001.1,804.4 1002.2,807.5 1003.4,802 1004.5,814.7 1005.6,806.2 1006.8,819.8 1007.9,808.9 1009,812.1 1010.1,812.7 1011.2,815.2 1012.4,810.4 1013.5,795 1014.6,798.1 1015.8,788.5 1016.9,801.2 1018,796.3 1019.1,814.5 1020.2,810 1021.4,811.6 1022.5,804.5 1023.6,817.2 1024.8,808.9 1025.9,802 1027,805.4 1028.1,801.5 1029.2,804.1 1030.4,801.7 1031.5,804.3 1032.6,811.3 1033.8,805.3 1034.9,801.1 1036,805.5 1037.1,803.8 1038.2,800.2 1039.4,804 1040.5,805.8 1041.6,806.3 1042.8,811.2 1043.9,818.3 1045,812.2 1046.1,819.4 1047.2,801.7 1048.4,802 1049.5,806 1050.6,811 1051.8,805.6 1052.9,797.8 1054,803.5 1055.1,789.7 1056.2,805.8 1057.4,816.5 1058.5,803.1 1059.6,800.2 1060.8,804.1 1061.9,813 1063,813.8 1064.1,803.5 1065.2,813.6 1066.4,811.2 1067.5,807.6 1068.6,801.1 1069.8,807.7 1070.9,796.2 1072,810.1 1073.1,806.3 1074.2,816.5 1075.4,807 1076.5,815.1 1077.6,813.1 1078.8,810 1079.9,811.2 1081,810.4 1082.1,807.1 1083.2,798.7 1084.4,811.7 1085.5,814.1 1086.6,835 1087.8,820.6 1088.9,807.6 1090,813.1 1091.1,817 1092.2,800 1093.4,797.8 1094.5,795.1 1095.6,826.7 1096.8,803.8 1097.9,804.3 1099,802.5 1100.1,807.9 1101.2,807.5 1102.4,806 1103.5,806.2 1104.6,806.6 1105.8,813.8 1106.9,795.3 1108,813.6 1109.1,824.1 1110.2,799.8 1111.4,825 1112.5,811.3 1113.6,820.1 1114.8,812.1 1115.9,807.4 1117,810.5 1118.1,808.9 1119.2,815 1120.4,817 1121.5,812.8 1122.6,811.1 1123.8,804.4 1124.9,794.6 1126,807.3 1127.1,814.7 1128.2,821 1129.4,800.2 1130.5,809.1 1131.6,811.2 1132.8,812.3 1133.9,821.8 1135,807.2 1136.1,809 1137.2,810.9 1138.4,801.4 1139.5,817.7 1140.6,802.7 1141.8,806.8 1142.9,819 1144,841 1145.1,811.9 1146.2,814.7 1147.4,831.2 1148.5,818.8 1149.6,806.8 1150.8,813.4 1151.9,820.8 1153,815.3 1154.1,825 1155.2,817.1 1156.4,815.3 1157.5,817.5 1158.6,823 1159.8,800.6 1160.9,815.4" fill="none" stroke="#64d412" stroke-width="2.4" stroke-opacity="0.9" stroke-linejoin="round"/>
<path d="M139.6,1060.4 V49.5" stroke="#6fc02a" stroke-width="2.6" stroke-opacity="0.72" fill="none"/>
<path d="M1165.8,815.4 V1060.4" stroke="#64d412" stroke-width="2.3" stroke-opacity="0.48" fill="none"/>
<path d="M138.4,397 V1060.4" stroke="#a89a46" stroke-width="3.2" fill="none"/>
<use href="#mg" x="138" y="1060.4"/><rect x="136.1" y="46.5" width="7.6" height="6.4" rx="1.5" fill="#58aa2e"/><use href="#mgs" x="141.3" y="169.5"/><use href="#mgs" x="142" y="241.5"/><use href="#mgs" x="144" y="295.1"/><use href="#mgs" x="144.7" y="326"/><use href="#mgs" x="145.4" y="347.9"/><use href="#mgs" x="147.4" y="363.7"/><use href="#mgs" x="148.8" y="378"/><use href="#mgs" x="150.9" y="393.9"/><use href="#mgs" x="152.9" y="406.2"/><use href="#mg" x="155" y="412"/><use href="#mg" x="157" y="417.2"/><use href="#mg" x="159" y="423"/><use href="#mg" x="161.2" y="428.2"/><use href="#mg" x="163" y="431.6"/><use href="#mg" x="164.1" y="434"/><use href="#mg" x="165.2" y="432.8"/><use href="#mg" x="166.4" y="435.9"/><use href="#mg" x="167.5" y="435.8"/><use href="#mg" x="168.6" y="438"/><use href="#mg" x="169.8" y="437.6"/><use href="#mg" x="170.9" y="438.6"/><use href="#mg" x="172" y="438.5"/><use href="#mg" x="173.1" y="438.5"/><use href="#mg" x="174.2" y="438.6"/><use href="#mg" x="175.4" y="437.3"/><use href="#mg" x="176.5" y="439.3"/><use href="#mg" x="177.6" y="439.3"/><use href="#mg" x="178.8" y="439.9"/><use href="#mg" x="179.9" y="436.9"/><use href="#mg" x="181" y="438.8"/><use href="#mg" x="182.1" y="439"/><use href="#mg" x="183.2" y="439.4"/><use href="#mg" x="184.4" y="438.7"/><use href="#mg" x="185.5" y="440.8"/><use href="#mg" x="186.6" y="440.4"/><use href="#mg" x="187.8" y="440"/><use href="#mg" x="188.9" y="440.2"/><use href="#mg" x="190" y="438.1"/><use href="#mg" x="191.1" y="441.2"/><use href="#mg" x="192.2" y="443.1"/><use href="#mg" x="193.4" y="442.5"/><use href="#mg" x="194.5" y="441.9"/><use href="#mg" x="195.6" y="439"/><use href="#mg" x="196.8" y="440.1"/><use href="#mg" x="197.9" y="442.3"/><use href="#mg" x="199" y="439.1"/><use href="#mg" x="200.1" y="441.2"/><use href="#mg" x="201.2" y="439.5"/><use href="#mg" x="202.4" y="442"/><use href="#mg" x="203.5" y="439.5"/><use href="#mg" x="204.6" y="441.4"/><use href="#mg" x="205.8" y="438.5"/><use href="#mg" x="206.9" y="439.2"/><use href="#mg" x="208" y="438.3"/><use href="#mg" x="209.1" y="437.1"/><use href="#mg" x="210.2" y="440.8"/><use href="#mg" x="211.4" y="439.1"/><use href="#mg" x="212.5" y="440.9"/><use href="#mg" x="213.6" y="440.2"/><use href="#mg" x="214.8" y="437.6"/><use href="#mg" x="215.9" y="439.7"/><use href="#mg" x="217" y="441"/><use href="#mg" x="218.1" y="440.3"/><use href="#mg" x="219.2" y="440.8"/><use href="#mg" x="220.4" y="439.6"/><use href="#mg" x="221.5" y="436.7"/><use href="#mg" x="222.6" y="436.7"/><use href="#mg" x="223.8" y="441.3"/><use href="#mg" x="224.9" y="439.7"/><use href="#mg" x="226" y="437.5"/><use href="#mg" x="227.1" y="437.4"/><use href="#mg" x="228.2" y="434.9"/><use href="#mg" x="229.4" y="437.9"/><use href="#mg" x="230.5" y="434.7"/><use href="#mg" x="231.6" y="434.8"/><use href="#mg" x="232.8" y="436"/><use href="#mg" x="233.9" y="435.9"/><use href="#mg" x="235" y="434.4"/><use href="#mg" x="236.1" y="437.5"/><use href="#mg" x="237.2" y="437.1"/><use href="#mg" x="238.4" y="435.9"/><use href="#mg" x="239.5" y="434.7"/><use href="#mg" x="240.6" y="434.8"/><use href="#mg" x="241.8" y="437.4"/><use href="#mg" x="242.9" y="433.5"/><use href="#mg" x="244" y="433.8"/><use href="#mg" x="245.1" y="434.6"/><use href="#mg" x="246.2" y="436.1"/><use href="#mg" x="247.4" y="434.8"/><use href="#mg" x="248.5" y="432"/><use href="#mg" x="249.6" y="435"/><use href="#mg" x="250.8" y="432.8"/><use href="#mg" x="251.9" y="435"/><use href="#mg" x="253" y="433.3"/><use href="#mg" x="254.1" y="433"/><use href="#mg" x="255.2" y="434.9"/><use href="#mg" x="256.4" y="434.3"/><use href="#mg" x="257.5" y="433.2"/><use href="#mg" x="258.6" y="431.7"/><use href="#mg" x="259.8" y="432.1"/><use href="#mg" x="260.9" y="433.9"/><use href="#mg" x="262" y="432"/><use href="#mg" x="263.1" y="434.5"/><use href="#mg" x="264.2" y="434.1"/><use href="#mg" x="265.4" y="432"/><use href="#mg" x="266.5" y="433.3"/><use href="#mg" x="267.6" y="434.9"/><use href="#mg" x="268.8" y="438.6"/><use href="#mg" x="269.9" y="432.5"/><use href="#mg" x="271" y="432.5"/><use href="#mg" x="272.1" y="437.4"/><use href="#mg" x="273.2" y="433.3"/><use href="#mg" x="274.4" y="433.6"/><use href="#mg" x="275.5" y="436.1"/><use href="#mg" x="276.6" y="433.1"/><use href="#mg" x="277.8" y="434.6"/><use href="#mg" x="278.9" y="433.6"/><use href="#mg" x="280" y="433.8"/><use href="#mg" x="281.1" y="434.5"/><use href="#mg" x="282.2" y="436.7"/><use href="#mg" x="283.4" y="436.1"/><use href="#mg" x="284.5" y="434.6"/><use href="#mg" x="285.6" y="434.2"/><use href="#mg" x="286.8" y="434.3"/><use href="#mg" x="287.9" y="436.9"/><use href="#mg" x="289" y="435"/><use href="#mg" x="290.1" y="435.4"/><use href="#mg" x="291.2" y="436.3"/><use href="#mg" x="292.4" y="439.8"/><use href="#mg" x="293.5" y="437.4"/><use href="#mg" x="294.6" y="440.2"/><use href="#mg" x="295.8" y="442.4"/><use href="#mg" x="296.9" y="438.9"/><use href="#mg" x="298" y="442.6"/><use href="#mg" x="299.1" y="437.5"/><use href="#mg" x="300.2" y="439.2"/><use href="#mg" x="301.4" y="437"/><use href="#mg" x="302.5" y="434.9"/><use href="#mg" x="303.6" y="439.1"/><use href="#mg" x="304.8" y="437.3"/><use href="#mg" x="305.9" y="441"/><use href="#mg" x="307" y="440.7"/><use href="#mg" x="308.1" y="438"/><use href="#mg" x="309.2" y="435.5"/><use href="#mg" x="310.4" y="438.7"/><use href="#mg" x="311.5" y="438.9"/><use href="#mg" x="312.6" y="441.2"/><use href="#mg" x="313.8" y="443.1"/><use href="#mg" x="314.9" y="443.1"/><use href="#mg" x="316" y="438.9"/><use href="#mg" x="317.1" y="443"/><use href="#mg" x="318.2" y="440.6"/><use href="#mg" x="319.4" y="437.1"/><use href="#mg" x="320.5" y="436.2"/><use href="#mg" x="321.6" y="440.3"/><use href="#mg" x="322.8" y="434.9"/><use href="#mg" x="323.9" y="437.9"/><use href="#mg" x="325" y="443.3"/><use href="#mg" x="326.1" y="434.8"/><use href="#mg" x="327.2" y="436.6"/><use href="#mg" x="328.4" y="441.2"/><use href="#mg" x="329.5" y="440.1"/><use href="#mg" x="330.6" y="437.7"/><use href="#mg" x="331.8" y="440.1"/><use href="#mg" x="332.9" y="443.7"/><use href="#mg" x="334" y="441.6"/><use href="#mg" x="335.1" y="440.5"/><use href="#mg" x="336.2" y="440.5"/><use href="#mg" x="337.4" y="440.6"/><use href="#mg" x="338.5" y="439.2"/><use href="#mg" x="339.6" y="443.4"/><use href="#mg" x="340.8" y="445.5"/><use href="#mg" x="341.9" y="441.5"/><use href="#mg" x="343" y="442.3"/><use href="#mg" x="344.1" y="440.3"/><use href="#mg" x="345.2" y="441.1"/><use href="#mg" x="346.4" y="445.7"/><use href="#mg" x="347.5" y="447.2"/><use href="#mg" x="348.6" y="443.7"/><use href="#mg" x="349.8" y="442.7"/><use href="#mg" x="350.9" y="440.5"/><use href="#mg" x="352" y="447.3"/><use href="#mg" x="353.1" y="446.5"/><use href="#mg" x="354.2" y="441.1"/><use href="#mg" x="355.4" y="441.5"/><use href="#mg" x="356.5" y="445.5"/><use href="#mg" x="357.6" y="438.8"/><use href="#mg" x="358.8" y="445.4"/><use href="#mg" x="359.9" y="446.6"/><use href="#mg" x="361" y="445.9"/><use href="#mg" x="362.1" y="447.2"/><use href="#mg" x="363.2" y="446.6"/><use href="#mg" x="364.4" y="449.4"/><use href="#mg" x="365.5" y="449.9"/><use href="#mg" x="366.6" y="448.8"/><use href="#mg" x="367.8" y="452.5"/><use href="#mg" x="368.9" y="449.6"/><use href="#mg" x="370" y="448.7"/><use href="#mg" x="371.1" y="450.4"/><use href="#mg" x="372.2" y="447.1"/><use href="#mg" x="373.4" y="451"/><use href="#mg" x="374.5" y="448.5"/><use href="#mg" x="375.6" y="449.9"/><use href="#mg" x="376.8" y="453.7"/><use href="#mg" x="377.9" y="446"/><use href="#mg" x="379" y="453.1"/><use href="#mg" x="380.1" y="447.8"/><use href="#mg" x="381.2" y="452.3"/><use href="#mg" x="382.4" y="455.4"/><use href="#mg" x="383.5" y="452.5"/><use href="#mg" x="384.6" y="452.6"/><use href="#mg" x="385.8" y="456.6"/><use href="#mg" x="386.9" y="454.8"/><use href="#mg" x="388" y="452.9"/><use href="#mg" x="389.1" y="456.2"/><use href="#mg" x="390.2" y="457.1"/><use href="#mg" x="391.4" y="456.3"/><use href="#mg" x="392.5" y="456.3"/><use href="#mg" x="393.6" y="456.2"/><use href="#mg" x="394.8" y="460.8"/><use href="#mg" x="395.9" y="455"/><use href="#mg" x="397" y="456.3"/><use href="#mg" x="398.1" y="457.2"/><use href="#mg" x="399.2" y="455.1"/><use href="#mg" x="400.4" y="455.7"/><use href="#mg" x="401.5" y="455.3"/><use href="#mg" x="402.6" y="455.3"/><use href="#mg" x="403.8" y="459"/><use href="#mg" x="404.9" y="459"/><use href="#mg" x="406" y="457"/><use href="#mg" x="407.1" y="454.2"/><use href="#mg" x="408.2" y="454.4"/><use href="#mg" x="409.4" y="458.1"/><use href="#mg" x="410.5" y="457.1"/><use href="#mg" x="411.6" y="457.3"/><use href="#mg" x="412.8" y="453.7"/><use href="#mg" x="413.9" y="459.6"/><use href="#mg" x="415" y="457.8"/><use href="#mg" x="416.1" y="459.2"/><use href="#mg" x="417.2" y="457.5"/><use href="#mg" x="418.4" y="459.1"/><use href="#mg" x="419.5" y="458.8"/><use href="#mg" x="420.6" y="458.5"/><use href="#mg" x="421.8" y="456.5"/><use href="#mg" x="422.9" y="462.9"/><use href="#mg" x="424" y="459.3"/><use href="#mg" x="425.1" y="459.3"/><use href="#mg" x="426.2" y="461.7"/><use href="#mg" x="427.4" y="460.9"/><use href="#mg" x="428.5" y="462.6"/><use href="#mg" x="429.6" y="465.7"/><use href="#mg" x="430.8" y="465.3"/><use href="#mg" x="431.9" y="461.4"/><use href="#mg" x="433" y="463"/><use href="#mg" x="434.1" y="461.5"/><use href="#mg" x="435.2" y="461.8"/><use href="#mg" x="436.4" y="464.1"/><use href="#mg" x="437.5" y="463.5"/><use href="#mg" x="438.6" y="462.7"/><use href="#mg" x="439.8" y="462.4"/><use href="#mg" x="440.9" y="470.2"/><use href="#mg" x="442" y="468.2"/><use href="#mg" x="443.1" y="464.7"/><use href="#mg" x="444.2" y="463.5"/><use href="#mg" x="445.4" y="467.6"/><use href="#mg" x="446.5" y="469.4"/><use href="#mg" x="447.6" y="466.7"/><use href="#mg" x="448.8" y="471.1"/><use href="#mg" x="449.9" y="472"/><use href="#mg" x="451" y="470.8"/><use href="#mg" x="452.1" y="469"/><use href="#mg" x="453.2" y="471.8"/><use href="#mg" x="454.4" y="471.9"/><use href="#mg" x="455.5" y="469.4"/><use href="#mg" x="456.6" y="472.3"/><use href="#mg" x="457.8" y="474"/><use href="#mg" x="458.9" y="472.8"/><use href="#mg" x="460" y="472.1"/><use href="#mg" x="461.1" y="470.7"/><use href="#mg" x="462.2" y="472"/><use href="#mg" x="463.4" y="474.2"/><use href="#mg" x="464.5" y="476.6"/><use href="#mg" x="465.6" y="476.3"/><use href="#mg" x="466.8" y="477"/><use href="#mg" x="467.9" y="477"/><use href="#mg" x="469" y="475.9"/><use href="#mg" x="470.1" y="474"/><use href="#mg" x="471.2" y="479.4"/><use href="#mg" x="472.4" y="476.5"/><use href="#mg" x="473.5" y="477.8"/><use href="#mg" x="474.6" y="479.7"/><use href="#mg" x="475.8" y="479.2"/><use href="#mg" x="476.9" y="477.5"/><use href="#mg" x="478" y="481.2"/><use href="#mg" x="479.1" y="479.1"/><use href="#mg" x="480.2" y="479.4"/><use href="#mg" x="481.4" y="477.6"/><use href="#mg" x="482.5" y="479.1"/><use href="#mg" x="483.6" y="480.8"/><use href="#mg" x="484.8" y="481.1"/><use href="#mg" x="485.9" y="484.5"/><use href="#mg" x="487" y="483.9"/><use href="#mg" x="488.1" y="482.5"/><use href="#mg" x="489.2" y="485.8"/><use href="#mg" x="490.4" y="482.8"/><use href="#mg" x="491.5" y="484.3"/><use href="#mg" x="492.6" y="483.6"/><use href="#mg" x="493.8" y="486.6"/><use href="#mg" x="494.9" y="484"/><use href="#mg" x="496" y="489"/><use href="#mg" x="497.1" y="489.9"/><use href="#mg" x="498.2" y="492.7"/><use href="#mg" x="499.4" y="488.5"/><use href="#mg" x="500.5" y="494.6"/><use href="#mg" x="501.6" y="491.9"/><use href="#mg" x="502.8" y="489.9"/><use href="#mg" x="503.9" y="494.9"/><use href="#mg" x="505" y="494.4"/><use href="#mg" x="506.1" y="495.7"/><use href="#mg" x="507.2" y="494.4"/><use href="#mg" x="508.4" y="494.7"/><use href="#mg" x="509.5" y="497.6"/><use href="#mg" x="510.6" y="498.6"/><use href="#mg" x="511.8" y="493"/><use href="#mg" x="512.9" y="495.8"/><use href="#mg" x="514" y="497.4"/><use href="#mg" x="515.1" y="493.6"/><use href="#mg" x="516.2" y="499.6"/><use href="#mg" x="517.4" y="494.9"/><use href="#mg" x="518.5" y="500.5"/><use href="#mg" x="519.6" y="506.9"/><use href="#mg" x="520.8" y="502.9"/><use href="#mg" x="521.9" y="504.8"/><use href="#mg" x="523" y="502.5"/><use href="#mg" x="524.1" y="503.8"/><use href="#mg" x="525.2" y="503.8"/><use href="#mg" x="526.4" y="510.1"/><use href="#mg" x="527.5" y="503.3"/><use href="#mg" x="528.6" y="506"/><use href="#mg" x="529.8" y="504"/><use href="#mg" x="530.9" y="505.4"/><use href="#mg" x="532" y="510"/><use href="#mg" x="533.1" y="504.1"/><use href="#mg" x="534.2" y="505.4"/><use href="#mg" x="535.4" y="511.7"/><use href="#mg" x="536.5" y="508.4"/><use href="#mg" x="537.6" y="508.7"/><use href="#mg" x="538.8" y="513.6"/><use href="#mg" x="539.9" y="505.9"/><use href="#mg" x="541" y="509.4"/><use href="#mg" x="542.1" y="511.2"/><use href="#mg" x="543.2" y="509.8"/><use href="#mg" x="544.4" y="508.8"/><use href="#mg" x="545.5" y="512.2"/><use href="#mg" x="546.6" y="514.2"/><use href="#mg" x="547.8" y="509.3"/><use href="#mg" x="548.9" y="512.5"/><use href="#mg" x="550" y="513.1"/><use href="#mg" x="551.1" y="514.8"/><use href="#mg" x="552.2" y="517.5"/><use href="#mg" x="553.4" y="514.7"/><use href="#mg" x="554.5" y="518.2"/><use href="#mg" x="555.6" y="514.6"/><use href="#mg" x="556.8" y="520"/><use href="#mg" x="557.9" y="517.4"/><use href="#mg" x="559" y="513.7"/><use href="#mg" x="560.1" y="521.1"/><use href="#mg" x="561.2" y="519.9"/><use href="#mg" x="562.4" y="518.9"/><use href="#mg" x="563.5" y="520.5"/><use href="#mg" x="564.6" y="522.9"/><use href="#mg" x="565.8" y="522.3"/><use href="#mg" x="566.9" y="524.8"/><use href="#mg" x="568" y="521.8"/><use href="#mg" x="569.1" y="526.4"/><use href="#mg" x="570.2" y="525.2"/><use href="#mg" x="571.4" y="528.8"/><use href="#mg" x="572.5" y="527.4"/><use href="#mg" x="573.6" y="523.4"/><use href="#mg" x="574.8" y="526.9"/><use href="#mg" x="575.9" y="526.1"/><use href="#mg" x="577" y="529.2"/><use href="#mg" x="578.1" y="529.6"/><use href="#mg" x="579.2" y="531.6"/><use href="#mg" x="580.4" y="528.7"/><use href="#mg" x="581.5" y="532.7"/><use href="#mg" x="582.6" y="528.7"/><use href="#mg" x="583.8" y="531.9"/><use href="#mg" x="584.9" y="535.5"/><use href="#mg" x="586" y="534.6"/><use href="#mg" x="587.1" y="537.5"/><use href="#mg" x="588.2" y="538.8"/><use href="#mg" x="589.4" y="539.1"/><use href="#mg" x="590.5" y="534"/><use href="#mg" x="591.6" y="540.9"/><use href="#mg" x="592.8" y="538.7"/><use href="#mg" x="593.9" y="544.3"/><use href="#mg" x="595" y="541.8"/><use href="#mg" x="596.1" y="544.1"/><use href="#mg" x="597.2" y="544.1"/><use href="#mg" x="598.4" y="548.3"/><use href="#mg" x="599.5" y="550.4"/><use href="#mg" x="600.6" y="546.6"/><use href="#mg" x="601.8" y="549.7"/><use href="#mg" x="602.9" y="546.2"/><use href="#mg" x="604" y="545.9"/><use href="#mg" x="605.1" y="552.8"/><use href="#mg" x="606.2" y="551"/><use href="#mg" x="607.4" y="555.6"/><use href="#mg" x="608.5" y="556.5"/><use href="#mg" x="609.6" y="550.3"/><use href="#mg" x="610.8" y="557.3"/><use href="#mg" x="611.9" y="552.4"/><use href="#mg" x="613" y="553.9"/><use href="#mg" x="614.1" y="554.7"/><use href="#mg" x="615.2" y="555.5"/><use href="#mg" x="616.4" y="554.5"/><use href="#mg" x="617.5" y="557"/><use href="#mg" x="618.6" y="556"/><use href="#mg" x="619.8" y="560.2"/><use href="#mg" x="620.9" y="559.2"/><use href="#mg" x="622" y="566"/><use href="#mg" x="623.1" y="566.2"/><use href="#mg" x="624.2" y="565.1"/><use href="#mg" x="625.4" y="562.4"/><use href="#mg" x="626.5" y="565.2"/><use href="#mg" x="627.6" y="565.2"/><use href="#mg" x="628.8" y="570.6"/><use href="#mg" x="629.9" y="574"/><use href="#mg" x="631" y="569.9"/><use href="#mg" x="632.1" y="570.9"/><use href="#mg" x="633.2" y="572"/><use href="#mg" x="634.4" y="572.9"/><use href="#mg" x="635.5" y="575.2"/><use href="#mg" x="636.6" y="575.1"/><use href="#mg" x="637.8" y="580.3"/><use href="#mg" x="638.9" y="579"/><use href="#mg" x="640" y="580.3"/><use href="#mg" x="641.1" y="577.5"/><use href="#mg" x="642.2" y="581.6"/><use href="#mg" x="643.4" y="586.1"/><use href="#mg" x="644.5" y="584"/><use href="#mg" x="645.6" y="587.1"/><use href="#mg" x="646.8" y="584"/><use href="#mg" x="647.9" y="585.4"/><use href="#mg" x="649" y="587.1"/><use href="#mg" x="650.1" y="590.5"/><use href="#mg" x="651.2" y="590.3"/><use href="#mg" x="652.4" y="588.3"/><use href="#mg" x="653.5" y="591.9"/><use href="#mg" x="654.6" y="593.6"/><use href="#mg" x="655.8" y="594.9"/><use href="#mg" x="656.9" y="599.6"/><use href="#mg" x="658" y="596.5"/><use href="#mg" x="659.1" y="602.7"/><use href="#mg" x="660.2" y="598.8"/><use href="#mg" x="661.4" y="599.9"/><use href="#mg" x="662.5" y="602.3"/><use href="#mg" x="663.6" y="602.1"/><use href="#mg" x="664.8" y="600.4"/><use href="#mg" x="665.9" y="607.9"/><use href="#mg" x="667" y="603.2"/><use href="#mg" x="668.1" y="604.4"/><use href="#mg" x="669.2" y="611.8"/><use href="#mg" x="670.4" y="612.3"/><use href="#mg" x="671.5" y="609.6"/><use href="#mg" x="672.6" y="609.2"/><use href="#mg" x="673.8" y="614.6"/><use href="#mg" x="674.9" y="617"/><use href="#mg" x="676" y="613.8"/><use href="#mg" x="677.1" y="614"/><use href="#mg" x="678.2" y="615.2"/><use href="#mg" x="679.4" y="617.5"/><use href="#mg" x="680.5" y="617"/><use href="#mg" x="681.6" y="618.9"/><use href="#mg" x="682.8" y="620"/><use href="#mg" x="683.9" y="621.2"/><use href="#mg" x="685" y="619"/><use href="#mg" x="686.1" y="625.9"/><use href="#mg" x="687.2" y="622.9"/><use href="#mg" x="688.4" y="622.7"/><use href="#mg" x="689.5" y="619.1"/><use href="#mg" x="690.6" y="623.6"/><use href="#mg" x="691.8" y="621.8"/><use href="#mg" x="692.9" y="627.2"/><use href="#mg" x="694" y="625.4"/><use href="#mg" x="695.1" y="627.4"/><use href="#mg" x="696.2" y="627.3"/><use href="#mg" x="697.4" y="626.9"/><use href="#mg" x="698.5" y="633.3"/><use href="#mg" x="699.6" y="625.1"/><use href="#mg" x="700.8" y="628.3"/><use href="#mg" x="701.9" y="631"/><use href="#mg" x="703" y="630.8"/><use href="#mg" x="704.1" y="631.7"/><use href="#mg" x="705.2" y="630.8"/><use href="#mg" x="706.4" y="630.8"/><use href="#mg" x="707.5" y="636.6"/><use href="#mg" x="708.6" y="630.7"/><use href="#mg" x="709.8" y="636.6"/><use href="#mg" x="710.9" y="635.1"/><use href="#mg" x="712" y="636.9"/><use href="#mg" x="713.1" y="640.7"/><use href="#mg" x="714.2" y="639.4"/><use href="#mg" x="715.4" y="646.1"/><use href="#mg" x="716.5" y="645.1"/><use href="#mg" x="717.6" y="648.5"/><use href="#mg" x="718.8" y="643.7"/><use href="#mg" x="719.9" y="648.4"/><use href="#mg" x="721" y="653.9"/><use href="#mg2" x="722.1" y="654.5"/><use href="#mg2" x="723.2" y="655.2"/><use href="#mg2" x="724.4" y="658.6"/><use href="#mg2" x="725.5" y="656"/><use href="#mg2" x="726.6" y="661.9"/><use href="#mg2" x="727.8" y="663.3"/><use href="#mg2" x="728.9" y="664.5"/><use href="#mg2" x="730" y="668"/><use href="#mg2" x="731.1" y="669"/><use href="#mg2" x="732.2" y="676.4"/><use href="#mg2" x="733.4" y="680"/><use href="#mg2" x="734.5" y="679.5"/><use href="#mg2" x="735.6" y="682.2"/><use href="#mg2" x="736.8" y="688.7"/><use href="#mg2" x="737.9" y="688.1"/><use href="#mg2" x="739" y="688.5"/><use href="#mg2" x="740.1" y="693.5"/><use href="#mg2" x="741.2" y="698.2"/><use href="#mg2" x="742.4" y="705.8"/><use href="#mg2" x="743.5" y="705.5"/><use href="#mg2" x="744.6" y="704.2"/><use href="#mg2" x="745.8" y="711.2"/><use href="#mg2" x="746.9" y="710.1"/><use href="#mg2" x="748" y="720.2"/><use href="#mg2" x="749.1" y="723.4"/><use href="#mg2" x="750.2" y="725.7"/><use href="#mg2" x="751.4" y="733.1"/><use href="#mg2" x="752.5" y="741.2"/><use href="#mg2" x="753.6" y="746.2"/><use href="#mg2" x="754.8" y="761"/><use href="#mg2" x="755.9" y="765.2"/><use href="#mg2" x="757" y="770.2"/><use href="#mg2" x="758.1" y="775.2"/><use href="#mg2" x="759.2" y="772.9"/><use href="#mg2" x="760.4" y="771.7"/><use href="#mg2" x="761.5" y="773.2"/><use href="#mg2" x="762.6" y="777"/><use href="#mg2" x="763.8" y="779.5"/><use href="#mg2" x="764.9" y="779.9"/><use href="#mg2" x="766" y="781.6"/><use href="#mg2" x="767.1" y="790.2"/><use href="#mg2" x="768.2" y="798.9"/><use href="#mg2" x="769.4" y="791.5"/><use href="#mg2" x="770.5" y="792.8"/><use href="#mg2" x="771.6" y="796.9"/><use href="#mgt" x="772.8" y="805.4"/><use href="#mgt" x="773.9" y="791"/><use href="#mgt" x="775" y="772"/><use href="#mgt" x="776.1" y="794.4"/><use href="#mgt" x="777.2" y="795.5"/><use href="#mgt" x="778.4" y="804.2"/><use href="#mgt" x="779.5" y="802.7"/><use href="#mgt" x="780.6" y="796.9"/><use href="#mgt" x="781.8" y="802.6"/><use href="#mgt" x="782.9" y="800.9"/><use href="#mgt" x="784" y="798"/><use href="#mgt" x="785.1" y="793"/><use href="#mgt" x="786.2" y="800.3"/><use href="#mgt" x="787.4" y="796.3"/><use href="#mgt" x="788.5" y="792.7"/><use href="#mgt" x="789.6" y="798.5"/><use href="#mgt" x="790.8" y="800.2"/><use href="#mgt" x="791.9" y="821.3"/><use href="#mgt" x="793" y="799.3"/><use href="#mgt" x="794.1" y="802.7"/><use href="#mgt" x="795.2" y="803"/><use href="#mgt" x="796.4" y="794.2"/><use href="#mgt" x="797.5" y="811.7"/><use href="#mgt" x="798.6" y="803.3"/><use href="#mgt" x="799.8" y="804.4"/><use href="#mgt" x="800.9" y="810"/><use href="#mgt" x="802" y="809.3"/><use href="#mgt" x="803.1" y="809.5"/><use href="#mgt" x="804.2" y="818"/><use href="#mgt" x="805.4" y="802.9"/><use href="#mgt" x="806.5" y="798.2"/><use href="#mgt" x="807.6" y="799.6"/><use href="#mgt" x="808.8" y="794"/><use href="#mgt" x="809.9" y="785.3"/><use href="#mgt" x="811" y="803.7"/><use href="#mgt" x="812.1" y="799"/><use href="#mgt" x="813.2" y="797.3"/><use href="#mgt" x="814.4" y="809.3"/><use href="#mgt" x="815.5" y="799.5"/><use href="#mgt" x="816.6" y="793.6"/><use href="#mgt" x="817.8" y="803.4"/><use href="#mgt" x="818.9" y="810.1"/><use href="#mgt" x="820" y="803.3"/><use href="#mgt" x="821.1" y="809"/><use href="#mgt" x="822.2" y="810.5"/><use href="#mgt" x="823.4" y="801.6"/><use href="#mgt" x="824.5" y="813.7"/><use href="#mgt" x="825.6" y="795"/><use href="#mgt" x="826.8" y="814.7"/><use href="#mgt" x="827.9" y="803.2"/><use href="#mgt" x="829" y="812.4"/><use href="#mgt" x="830.1" y="801"/><use href="#mgt" x="831.2" y="807.7"/><use href="#mgt" x="832.4" y="809.2"/><use href="#mgt" x="833.5" y="809.3"/><use href="#mgt" x="834.6" y="810.4"/><use href="#mgt" x="835.8" y="812.4"/><use href="#mgt" x="836.9" y="810.6"/><use href="#mgt" x="838" y="810.3"/><use href="#mgt" x="839.1" y="806.4"/><use href="#mgt" x="840.2" y="802.1"/><use href="#mgt" x="841.4" y="814.7"/><use href="#mgt" x="842.5" y="797.7"/><use href="#mgt" x="843.6" y="803.6"/><use href="#mgt" x="844.8" y="804.7"/><use href="#mgt" x="845.9" y="810.6"/><use href="#mgt" x="847" y="807.3"/><use href="#mgt" x="848.1" y="810.3"/><use href="#mgt" x="849.2" y="814.3"/><use href="#mgt" x="850.4" y="811.7"/><use href="#mgt" x="851.5" y="807.7"/><use href="#mgt" x="852.6" y="806.2"/><use href="#mgt" x="853.8" y="812.1"/><use href="#mgt" x="854.9" y="810.8"/><use href="#mgt" x="856" y="816.4"/><use href="#mgt" x="857.1" y="808.7"/><use href="#mgt" x="858.2" y="813.4"/><use href="#mgt" x="859.4" y="815.9"/><use href="#mgt" x="860.5" y="819.7"/><use href="#mgt" x="861.6" y="836.9"/><use href="#mgt" x="862.8" y="813.1"/><use href="#mgt" x="863.9" y="811.2"/><use href="#mgt" x="865" y="815.8"/><use href="#mgt" x="866.1" y="827.2"/><use href="#mgt" x="867.2" y="812.6"/><use href="#mgt" x="868.4" y="808.3"/><use href="#mgt" x="869.5" y="809.5"/><use href="#mgt" x="870.6" y="803.9"/><use href="#mgt" x="871.8" y="810.6"/><use href="#mgt" x="872.9" y="815.9"/><use href="#mgt" x="874" y="801.7"/><use href="#mgt" x="875.1" y="833.1"/><use href="#mgt" x="876.2" y="806"/><use href="#mgt" x="877.4" y="812.2"/><use href="#mgt" x="878.5" y="811.1"/><use href="#mgt" x="879.6" y="800.3"/><use href="#mgt" x="880.8" y="796.3"/><use href="#mgt" x="881.9" y="802.4"/><use href="#mgt" x="883" y="805.2"/><use href="#mgt" x="884.1" y="808.4"/><use href="#mgt" x="885.2" y="802.6"/><use href="#mgt" x="886.4" y="814"/><use href="#mgt" x="887.5" y="803.7"/><use href="#mgt" x="888.6" y="799.4"/><use href="#mgt" x="889.8" y="798.4"/><use href="#mgt" x="890.9" y="811.1"/><use href="#mgt" x="892" y="795.9"/><use href="#mgt" x="893.1" y="819.3"/><use href="#mgt" x="894.2" y="810.1"/><use href="#mgt" x="895.4" y="797.4"/><use href="#mgt" x="896.5" y="810.2"/><use href="#mgt" x="897.6" y="800.6"/><use href="#mgt" x="898.8" y="806.3"/><use href="#mgt" x="899.9" y="813.5"/><use href="#mgt" x="901" y="800.4"/><use href="#mgt" x="902.1" y="812.9"/><use href="#mgt" x="903.2" y="790.8"/><use href="#mgt" x="904.4" y="803.7"/><use href="#mgt" x="905.5" y="808.7"/><use href="#mgt" x="906.6" y="808.1"/><use href="#mgt" x="907.8" y="807.5"/><use href="#mgt" x="908.9" y="808.5"/><use href="#mgt" x="910" y="810.2"/><use href="#mgt" x="911.1" y="807.3"/><use href="#mgt" x="912.2" y="809.1"/><use href="#mgt" x="913.4" y="804.1"/><use href="#mgt" x="914.5" y="797.6"/><use href="#mgt" x="915.6" y="799.9"/><use href="#mgt" x="916.8" y="815.8"/><use href="#mgt" x="917.9" y="788.8"/><use href="#mgt" x="919" y="805.6"/><use href="#mgt" x="920.1" y="810.9"/><use href="#mgt" x="921.2" y="794.3"/><use href="#mgt" x="922.4" y="776"/><use href="#mgt" x="923.5" y="805.5"/><use href="#mgt" x="924.6" y="814.9"/><use href="#mgt" x="925.8" y="826.5"/><use href="#mgt" x="926.9" y="828.4"/><use href="#mgt" x="928" y="823"/><use href="#mgt" x="929.1" y="823.1"/><use href="#mgt" x="930.2" y="818.9"/><use href="#mgt" x="931.4" y="811.8"/><use href="#mgt" x="932.5" y="817.6"/><use href="#mgt" x="933.6" y="806.9"/><use href="#mgt" x="934.8" y="818.6"/><use href="#mgt" x="935.9" y="812.5"/><use href="#mgt" x="937" y="811.8"/><use href="#mgt" x="938.1" y="812.5"/><use href="#mgt" x="939.2" y="806.1"/><use href="#mgt" x="940.4" y="797.5"/><use href="#mgt" x="941.5" y="813.6"/><use href="#mgt" x="942.6" y="805.1"/><use href="#mgt" x="943.8" y="803.3"/><use href="#mgt" x="944.9" y="797.3"/><use href="#mgt" x="946" y="809.8"/><use href="#mgt" x="947.1" y="807.1"/><use href="#mgt" x="948.2" y="809.8"/><use href="#mgt" x="949.4" y="807.5"/><use href="#mgt" x="950.5" y="809.4"/><use href="#mgt" x="951.6" y="808.5"/><use href="#mgt" x="952.8" y="802.4"/><use href="#mgt" x="953.9" y="804.4"/><use href="#mgt" x="955" y="806.7"/><use href="#mgt" x="956.1" y="810"/><use href="#mgt" x="957.2" y="797.6"/><use href="#mgt" x="958.4" y="801.6"/><use href="#mgt" x="959.5" y="829"/><use href="#mgt" x="960.6" y="813.8"/><use href="#mgt" x="961.8" y="812.3"/><use href="#mgt" x="962.9" y="800.9"/><use href="#mgt" x="964" y="822.9"/><use href="#mgt" x="965.1" y="832.8"/><use href="#mgt" x="966.2" y="815.1"/><use href="#mgt" x="967.4" y="822.9"/><use href="#mgt" x="968.5" y="806.1"/><use href="#mgt" x="969.6" y="806.5"/><use href="#mgt" x="970.8" y="817.4"/><use href="#mgt" x="971.9" y="819.3"/><use href="#mgt" x="973" y="804.3"/><use href="#mgt" x="974.1" y="801.4"/><use href="#mgt" x="975.2" y="815.5"/><use href="#mgt" x="976.4" y="817.7"/><use href="#mgt" x="977.5" y="810.5"/><use href="#mgt" x="978.6" y="816.1"/><use href="#mgt" x="979.8" y="818.3"/><use href="#mgt" x="980.9" y="829.1"/><use href="#mgt" x="982" y="809"/><use href="#mgt" x="983.1" y="810.1"/><use href="#mgt" x="984.2" y="803.8"/><use href="#mgt" x="985.4" y="803.5"/><use href="#mgt" x="986.5" y="815.1"/><use href="#mgt" x="987.6" y="815.9"/><use href="#mgt" x="988.8" y="809.1"/><use href="#mgt" x="989.9" y="822.1"/><use href="#mgt" x="991" y="821.3"/><use href="#mgt" x="992.1" y="813.9"/><use href="#mgt" x="993.2" y="799"/><use href="#mgt" x="994.4" y="805.1"/><use href="#mgt" x="995.5" y="804.3"/><use href="#mgt" x="996.6" y="817.2"/><use href="#mgt" x="997.8" y="810.9"/><use href="#mgt" x="998.9" y="804.9"/><use href="#mgt" x="1000" y="804.1"/><use href="#mgt" x="1001.1" y="804.4"/><use href="#mgt" x="1002.2" y="807.5"/><use href="#mgt" x="1003.4" y="802"/><use href="#mgt" x="1004.5" y="814.7"/><use href="#mgt" x="1005.6" y="806.2"/><use href="#mgt" x="1006.8" y="819.8"/><use href="#mgt" x="1007.9" y="808.9"/><use href="#mgt" x="1009" y="812.1"/><use href="#mgt" x="1010.1" y="812.7"/><use href="#mgt" x="1011.2" y="815.2"/><use href="#mgt" x="1012.4" y="810.4"/><use href="#mgt" x="1013.5" y="795"/><use href="#mgt" x="1014.6" y="798.1"/><use href="#mgt" x="1015.8" y="788.5"/><use href="#mgt" x="1016.9" y="801.2"/><use href="#mgt" x="1018" y="796.3"/><use href="#mgt" x="1019.1" y="814.5"/><use href="#mgt" x="1020.2" y="810"/><use href="#mgt" x="1021.4" y="811.6"/><use href="#mgt" x="1022.5" y="804.5"/><use href="#mgt" x="1023.6" y="817.2"/><use href="#mgt" x="1024.8" y="808.9"/><use href="#mgt" x="1025.9" y="802"/><use href="#mgt" x="1027" y="805.4"/><use href="#mgt" x="1028.1" y="801.5"/><use href="#mgt" x="1029.2" y="804.1"/><use href="#mgt" x="1030.4" y="801.7"/><use href="#mgt" x="1031.5" y="804.3"/><use href="#mgt" x="1032.6" y="811.3"/><use href="#mgt" x="1033.8" y="805.3"/><use href="#mgt" x="1034.9" y="801.1"/><use href="#mgt" x="1036" y="805.5"/><use href="#mgt" x="1037.1" y="803.8"/><use href="#mgt" x="1038.2" y="800.2"/><use href="#mgt" x="1039.4" y="804"/><use href="#mgt" x="1040.5" y="805.8"/><use href="#mgt" x="1041.6" y="806.3"/><use href="#mgt" x="1042.8" y="811.2"/><use href="#mgt" x="1043.9" y="818.3"/><use href="#mgt" x="1045" y="812.2"/><use href="#mgt" x="1046.1" y="819.4"/><use href="#mgt" x="1047.2" y="801.7"/><use href="#mgt" x="1048.4" y="802"/><use href="#mgt" x="1049.5" y="806"/><use href="#mgt" x="1050.6" y="811"/><use href="#mgt" x="1051.8" y="805.6"/><use href="#mgt" x="1052.9" y="797.8"/><use href="#mgt" x="1054" y="803.5"/><use href="#mgt" x="1055.1" y="789.7"/><use href="#mgt" x="1056.2" y="805.8"/><use href="#mgt" x="1057.4" y="816.5"/><use href="#mgt" x="1058.5" y="803.1"/><use href="#mgt" x="1059.6" y="800.2"/><use href="#mgt" x="1060.8" y="804.1"/><use href="#mgt" x="1061.9" y="813"/><use href="#mgt" x="1063" y="813.8"/><use href="#mgt" x="1064.1" y="803.5"/><use href="#mgt" x="1065.2" y="813.6"/><use href="#mgt" x="1066.4" y="811.2"/><use href="#mgt" x="1067.5" y="807.6"/><use href="#mgt" x="1068.6" y="801.1"/><use href="#mgt" x="1069.8" y="807.7"/><use href="#mgt" x="1070.9" y="796.2"/><use href="#mgt" x="1072" y="810.1"/><use href="#mgt" x="1073.1" y="806.3"/><use href="#mgt" x="1074.2" y="816.5"/><use href="#mgt" x="1075.4" y="807"/><use href="#mgt" x="1076.5" y="815.1"/><use href="#mgt" x="1077.6" y="813.1"/><use href="#mgt" x="1078.8" y="810"/><use href="#mgt" x="1079.9" y="811.2"/><use href="#mgt" x="1081" y="810.4"/><use href="#mgt" x="1082.1" y="807.1"/><use href="#mgt" x="1083.2" y="798.7"/><use href="#mgt" x="1084.4" y="811.7"/><use href="#mgt" x="1085.5" y="814.1"/><use href="#mgt" x="1086.6" y="835"/><use href="#mgt" x="1087.8" y="820.6"/><use href="#mgt" x="1088.9" y="807.6"/><use href="#mgt" x="1090" y="813.1"/><use href="#mgt" x="1091.1" y="817"/><use href="#mgt" x="1092.2" y="800"/><use href="#mgt" x="1093.4" y="797.8"/><use href="#mgt" x="1094.5" y="795.1"/><use href="#mgt" x="1095.6" y="826.7"/><use href="#mgt" x="1096.8" y="803.8"/><use href="#mgt" x="1097.9" y="804.3"/><use href="#mgt" x="1099" y="802.5"/><use href="#mgt" x="1100.1" y="807.9"/><use href="#mgt" x="1101.2" y="807.5"/><use href="#mgt" x="1102.4" y="806"/><use href="#mgt" x="1103.5" y="806.2"/><use href="#mgt" x="1104.6" y="806.6"/><use href="#mgt" x="1105.8" y="813.8"/><use href="#mgt" x="1106.9" y="795.3"/><use href="#mgt" x="1108" y="813.6"/><use href="#mgt" x="1109.1" y="824.1"/><use href="#mgt" x="1110.2" y="799.8"/><use href="#mgt" x="1111.4" y="825"/><use href="#mgt" x="1112.5" y="811.3"/><use href="#mgt" x="1113.6" y="820.1"/><use href="#mgt" x="1114.8" y="812.1"/><use href="#mgt" x="1115.9" y="807.4"/><use href="#mgt" x="1117" y="810.5"/><use href="#mgt" x="1118.1" y="808.9"/><use href="#mgt" x="1119.2" y="815"/><use href="#mgt" x="1120.4" y="817"/><use href="#mgt" x="1121.5" y="812.8"/><use href="#mgt" x="1122.6" y="811.1"/><use href="#mgt" x="1123.8" y="804.4"/><use href="#mgt" x="1124.9" y="794.6"/><use href="#mgt" x="1126" y="807.3"/><use href="#mgt" x="1127.1" y="814.7"/><use href="#mgt" x="1128.2" y="821"/><use href="#mgt" x="1129.4" y="800.2"/><use href="#mgt" x="1130.5" y="809.1"/><use href="#mgt" x="1131.6" y="811.2"/><use href="#mgt" x="1132.8" y="812.3"/><use href="#mgt" x="1133.9" y="821.8"/><use href="#mgt" x="1135" y="807.2"/><use href="#mgt" x="1136.1" y="809"/><use href="#mgt" x="1137.2" y="810.9"/><use href="#mgt" x="1138.4" y="801.4"/><use href="#mgt" x="1139.5" y="817.7"/><use href="#mgt" x="1140.6" y="802.7"/><use href="#mgt" x="1141.8" y="806.8"/><use href="#mgt" x="1142.9" y="819"/><use href="#mgt" x="1144" y="841"/><use href="#mgt" x="1145.1" y="811.9"/><use href="#mgt" x="1146.2" y="814.7"/><use href="#mgt" x="1147.4" y="831.2"/><use href="#mgt" x="1148.5" y="818.8"/><use href="#mgt" x="1149.6" y="806.8"/><use href="#mgt" x="1150.8" y="813.4"/><use href="#mgt" x="1151.9" y="820.8"/><use href="#mgt" x="1153" y="815.3"/><use href="#mgt" x="1154.1" y="825"/><use href="#mgt" x="1155.2" y="817.1"/><use href="#mgt" x="1156.4" y="815.3"/><use href="#mgt" x="1157.5" y="817.5"/><use href="#mgt" x="1158.6" y="823"/><use href="#mgt" x="1159.8" y="800.6"/><use href="#mgt" x="1160.9" y="815.4"/><use href="#mg" x="1165.7" y="1060.4"/><use href="#mg" x="1168" y="1060.4"/><use href="#mg" x="1170.2" y="1060.4"/><use href="#mg" x="1172.5" y="1060.4"/><use href="#mg" x="1174.7" y="1060.4"/><use href="#mg" x="1177" y="1060.4"/><use href="#mg" x="1179.2" y="1060.4"/><use href="#mg" x="1181.5" y="1060.4"/><use href="#mg" x="1183.7" y="1060.4"/><use href="#mg" x="1186" y="1060.4"/><use href="#mg" x="1188.2" y="1060.4"/><use href="#mg" x="1190.5" y="1060.4"/><use href="#mg" x="1192.7" y="1060.4"/><use href="#mg" x="1195" y="1060.4"/><use href="#mg" x="1197.2" y="1060.4"/><use href="#mg" x="1199.5" y="1060.4"/><use href="#mg" x="1201.7" y="1060.4"/><use href="#mg" x="1204" y="1060.4"/><use href="#mg" x="1206.2" y="1060.4"/><use href="#mg" x="1208.5" y="1060.4"/><use href="#mg" x="1210.7" y="1060.4"/><use href="#mg" x="1213" y="1060.4"/><use href="#mg" x="1215.2" y="1060.4"/><use href="#mg" x="1217.5" y="1060.4"/><use href="#mg" x="1219.7" y="1060.4"/><use href="#mg" x="1222" y="1060.4"/><use href="#mg" x="1224.2" y="1060.4"/><use href="#mg" x="1226.5" y="1060.4"/><use href="#mg" x="1228.7" y="1060.4"/><use href="#mg" x="1231" y="1060.4"/><use href="#mg" x="1233.2" y="1060.4"/><use href="#mg" x="1235.5" y="1060.4"/><use href="#mg" x="1237.7" y="1060.4"/><use href="#mg" x="1240" y="1060.4"/><use href="#mg" x="1242.2" y="1060.4"/><use href="#mg" x="1244.5" y="1060.4"/><use href="#mg" x="1246.7" y="1060.4"/><use href="#mg" x="1249" y="1060.4"/><use href="#mg" x="1251.2" y="1060.4"/><use href="#mg" x="1253.5" y="1060.4"/><use href="#mg" x="1255.7" y="1060.4"/><use href="#mg" x="1258" y="1060.4"/><use href="#mg" x="1260.2" y="1060.4"/><use href="#mg" x="1262.5" y="1060.4"/>
</g>
<rect x="1021" y="68" width="220.5" height="128" fill="#fff"/>
<path d="M1031,90 H1093" stroke="#000" stroke-width="6.2" stroke-linecap="square" fill="none"/>
<path d="M1029,132.2 H1095" stroke="#e24e14" stroke-width="2" stroke-opacity="0.45" fill="none"/>
<use href="#mr" x="1062.5" y="132.2" transform="translate(1062.5 132.2) scale(0.8) translate(-1062.5 -132.2)"/>
<path d="M1029,173.8 H1095" stroke="#64d412" stroke-width="2" stroke-opacity="0.5" fill="none"/>
<use href="#mg" x="1062.5" y="173.8" transform="translate(1062.5 173.8) scale(0.8) translate(-1062.5 -173.8)"/>
</g>
<g class="softt">
<text class="ttl" x="516.2" y="32">Silicon in Ga<tspan font-size="29" dy="17.8">2</tspan><tspan dy="-17.8">O</tspan><tspan font-size="29" dy="17.8">3</tspan></text>
<text class="tk" x="58" y="177.9">10<tspan class="sup" dx="1.4" dy="-16.8">19</tspan></text>
<text class="tk" x="58" y="627.9">10<tspan class="sup" dx="1.4" dy="-16.8">18</tspan></text>
<text class="tk" x="58" y="1077.9">10<tspan class="sup" dx="1.4" dy="-16.8">17</tspan></text>
<text class="tk" x="136.3" y="1103.5" text-anchor="middle">0</text>
<text class="tk" x="361" y="1103.5" text-anchor="middle">0.2</text>
<text class="tk" x="585.7" y="1103.5" text-anchor="middle">0.4</text>
<text class="tk" x="810.4" y="1103.5" text-anchor="middle">0.6</text>
<text class="tk" x="1035.1" y="1103.5" text-anchor="middle">0.8</text>
<text class="tk" x="1259.8" y="1103.5" text-anchor="middle">1</text>
<text class="lb" x="699" y="1147.5" text-anchor="middle">Depth (μm)</text>
<text class="lb" transform="translate(42.5 794.5) rotate(-90)" textLength="481" lengthAdjust="spacingAndGlyphs">Si concentration (atoms/cm<tspan font-size="29" dy="-16.5">3</tspan><tspan dy="16.5">)</tspan></text>
<text class="lg" x="1101.5" y="103" textLength="132" lengthAdjust="spacingAndGlyphs">Sim1150</text>
<text class="lg" x="1101.5" y="143.4" textLength="96" lengthAdjust="spacingAndGlyphs">AsImp</text>
<text class="lg" x="1101.5" y="182.8" textLength="132" lengthAdjust="spacingAndGlyphs">Exp1150</text>
</g>
</svg>
</body></html>
